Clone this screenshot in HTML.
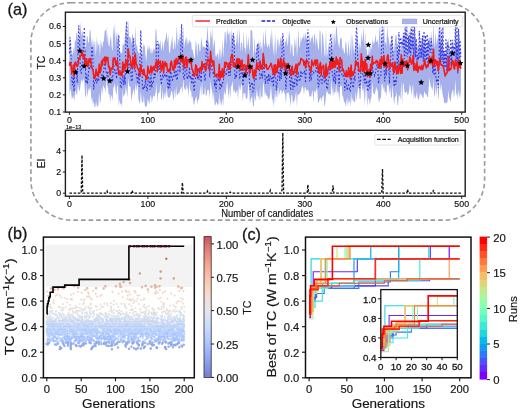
<!DOCTYPE html>
<html><head><meta charset="utf-8"><title>Figure</title>
<style>html,body{margin:0;padding:0;background:#fff;overflow:hidden;} svg{display:block;}</style>
</head><body>
<svg width="520" height="411" viewBox="0 0 520 411" font-family="'Liberation Sans', Arial, Helvetica, sans-serif" fill="#161616">
<style>text{stroke:#161616;stroke-width:0.18px;}</style>
<rect width="520" height="411" fill="#fff"/>
<rect x="30.9" y="2.7" width="453.7" height="217.4" rx="40" ry="40" fill="none" stroke="#9a9a9a" stroke-width="1.6" stroke-dasharray="4.6 3"/>
<text x="7.60" y="15.20" font-size="16.2" style="stroke-width:0.3px">(a)</text>
<text x="7.60" y="239.30" font-size="16.2" style="stroke-width:0.3px">(b)</text>
<text x="242.10" y="239.50" font-size="16.2" style="stroke-width:0.3px">(c)</text>
<g>
<polygon points="69.4,32.6 70.2,41.1 71.0,47.7 71.8,55.7 72.5,54.4 73.3,46.9 74.1,54.8 74.9,40.1 75.7,41.2 76.5,32.4 77.2,32.7 78.0,43.1 78.8,35.6 79.6,38.4 80.4,21.4 81.2,37.1 82.0,30.1 82.7,32.8 83.5,40.1 84.3,36.9 85.1,48.9 85.9,48.4 86.7,36.6 87.4,35.7 88.2,43.1 89.0,42.1 89.8,29.2 90.6,31.5 91.4,44.9 92.2,38.3 92.9,50.9 93.7,41.2 94.5,41.8 95.3,57.7 96.1,35.7 96.9,52.5 97.6,40.1 98.4,45.3 99.2,44.2 100.0,56.2 100.8,39.6 101.6,44.3 102.4,47.9 103.1,41.4 103.9,41.2 104.7,31.1 105.5,30.7 106.3,27.8 107.1,43.9 107.8,32.6 108.6,45.7 109.4,46.7 110.2,39.9 111.0,35.2 111.8,48.1 112.6,51.3 113.3,25.3 114.1,37.6 114.9,22.8 115.7,48.2 116.5,30.7 117.3,41.5 118.0,30.8 118.8,45.1 119.6,49.7 120.4,52.9 121.2,52.8 122.0,53.7 122.8,42.7 123.5,45.0 124.3,44.7 125.1,34.7 125.9,23.9 126.7,40.1 127.5,34.7 128.2,19.7 129.0,37.1 129.8,36.5 130.6,38.1 131.4,44.8 132.2,33.8 133.0,36.0 133.7,42.2 134.5,50.8 135.3,25.0 136.1,47.3 136.9,43.4 137.7,50.7 138.4,52.3 139.2,53.9 140.0,57.4 140.8,37.0 141.6,54.9 142.4,52.9 143.2,42.7 143.9,47.2 144.7,44.8 145.5,55.5 146.3,61.7 147.1,50.7 147.9,44.8 148.6,50.7 149.4,45.6 150.2,54.1 151.0,47.2 151.8,54.3 152.6,51.9 153.4,47.5 154.1,51.1 154.9,49.1 155.7,28.1 156.5,31.8 157.3,52.8 158.1,39.6 158.8,44.5 159.6,44.4 160.4,39.4 161.2,51.1 162.0,47.5 162.8,40.2 163.6,51.6 164.3,42.2 165.1,40.2 165.9,37.5 166.7,30.9 167.5,42.7 168.3,34.6 169.0,51.3 169.8,54.1 170.6,46.5 171.4,42.0 172.2,35.4 173.0,48.8 173.8,49.1 174.5,39.0 175.3,50.2 176.1,37.9 176.9,25.1 177.7,46.5 178.5,38.9 179.2,39.5 180.0,31.7 180.8,44.1 181.6,27.9 182.4,44.2 183.2,24.8 184.0,48.8 184.7,43.0 185.5,39.6 186.3,35.9 187.1,46.0 187.9,38.4 188.7,45.0 189.4,38.6 190.2,42.9 191.0,41.0 191.8,50.1 192.6,49.6 193.4,53.4 194.2,58.4 194.9,56.9 195.7,40.0 196.5,44.2 197.3,56.9 198.1,43.5 198.9,44.7 199.6,51.2 200.4,51.1 201.2,36.4 202.0,43.2 202.8,47.9 203.6,46.0 204.4,47.2 205.1,47.1 205.9,47.8 206.7,40.4 207.5,24.7 208.3,40.4 209.1,43.5 209.8,49.3 210.6,29.7 211.4,39.6 212.2,27.4 213.0,49.5 213.8,43.2 214.6,38.6 215.3,54.4 216.1,57.6 216.9,54.7 217.7,52.9 218.5,60.3 219.3,46.3 220.0,61.3 220.8,48.6 221.6,59.1 222.4,38.5 223.2,58.2 224.0,45.1 224.8,32.1 225.5,32.1 226.3,44.9 227.1,29.0 227.9,33.3 228.7,34.9 229.5,31.0 230.2,48.2 231.0,28.1 231.8,36.6 232.6,38.5 233.4,35.0 234.2,35.2 235.0,44.4 235.7,45.8 236.5,41.1 237.3,28.5 238.1,46.5 238.9,39.3 239.7,28.1 240.4,52.8 241.2,43.1 242.0,42.0 242.8,52.4 243.6,30.6 244.4,47.7 245.2,47.9 245.9,53.7 246.7,32.5 247.5,49.2 248.3,35.9 249.1,46.2 249.9,52.5 250.6,30.5 251.4,30.3 252.2,30.4 253.0,47.7 253.8,59.7 254.6,36.1 255.4,53.0 256.1,52.6 256.9,44.7 257.7,48.3 258.5,40.7 259.3,46.9 260.1,38.2 260.8,50.0 261.6,45.0 262.4,52.2 263.2,31.1 264.0,42.6 264.8,47.4 265.5,28.1 266.3,41.8 267.1,47.0 267.9,47.2 268.7,42.9 269.5,50.2 270.3,32.4 271.0,46.5 271.8,27.9 272.6,42.4 273.4,55.9 274.2,39.7 275.0,58.2 275.7,32.4 276.5,55.7 277.3,40.6 278.1,38.2 278.9,48.5 279.7,43.6 280.5,36.3 281.2,43.1 282.0,34.5 282.8,42.9 283.6,39.1 284.4,48.8 285.2,40.8 285.9,42.5 286.7,36.4 287.5,46.9 288.3,41.3 289.1,30.2 289.9,36.8 290.7,55.6 291.4,44.8 292.2,43.8 293.0,56.1 293.8,56.3 294.6,38.3 295.4,48.5 296.1,35.3 296.9,56.7 297.7,46.1 298.5,28.0 299.3,48.5 300.1,44.7 300.9,36.6 301.6,42.0 302.4,37.2 303.2,38.3 304.0,33.0 304.8,40.9 305.6,31.2 306.3,39.2 307.1,37.2 307.9,42.8 308.7,48.3 309.5,32.8 310.3,43.6 311.1,38.5 311.8,37.8 312.6,35.2 313.4,44.7 314.2,34.9 315.0,33.8 315.8,47.1 316.5,37.4 317.3,41.4 318.1,48.3 318.9,50.4 319.7,30.3 320.5,31.5 321.3,58.1 322.0,36.5 322.8,31.5 323.6,43.5 324.4,54.5 325.2,56.9 326.0,28.5 326.7,57.5 327.5,54.0 328.3,43.2 329.1,51.2 329.9,43.5 330.7,48.6 331.5,36.9 332.2,51.1 333.0,29.0 333.8,49.8 334.6,32.2 335.4,45.1 336.2,20.2 336.9,29.6 337.7,40.9 338.5,44.5 339.3,48.4 340.1,38.9 340.9,38.1 341.7,38.6 342.4,51.1 343.2,46.8 344.0,53.4 344.8,53.1 345.6,41.4 346.4,43.3 347.1,56.8 347.9,50.4 348.7,40.0 349.5,56.6 350.3,49.2 351.1,32.0 351.9,59.6 352.6,33.8 353.4,46.2 354.2,54.1 355.0,47.3 355.8,41.2 356.6,38.0 357.3,34.6 358.1,42.2 358.9,54.7 359.7,41.1 360.5,50.4 361.3,31.3 362.1,42.6 362.8,38.1 363.6,26.5 364.4,48.7 365.2,32.2 366.0,51.1 366.8,47.6 367.5,58.9 368.3,54.5 369.1,44.8 369.9,55.7 370.7,45.0 371.5,49.9 372.3,38.0 373.0,45.6 373.8,41.2 374.6,43.3 375.4,34.0 376.2,41.3 377.0,42.3 377.7,38.7 378.5,48.8 379.3,32.6 380.1,23.3 380.9,50.8 381.7,33.7 382.5,41.3 383.2,37.0 384.0,19.7 384.8,44.7 385.6,41.3 386.4,46.2 387.2,25.7 387.9,34.9 388.7,39.3 389.5,46.3 390.3,41.6 391.1,44.2 391.9,37.6 392.7,42.8 393.4,51.3 394.2,50.2 395.0,39.9 395.8,35.1 396.6,35.6 397.4,50.9 398.1,52.0 398.9,48.4 399.7,42.6 400.5,55.2 401.3,35.5 402.1,51.4 402.9,30.7 403.6,35.3 404.4,36.0 405.2,29.9 406.0,45.9 406.8,33.0 407.6,51.9 408.3,30.0 409.1,42.5 409.9,36.2 410.7,23.6 411.5,42.0 412.3,44.0 413.1,34.2 413.8,49.8 414.6,44.3 415.4,32.6 416.2,48.1 417.0,42.0 417.8,49.8 418.5,43.7 419.3,48.8 420.1,46.1 420.9,51.1 421.7,45.1 422.5,37.0 423.3,50.0 424.0,42.6 424.8,38.6 425.6,48.2 426.4,50.0 427.2,43.3 428.0,44.1 428.7,38.6 429.5,36.8 430.3,44.9 431.1,30.8 431.9,40.2 432.7,46.5 433.5,20.1 434.2,48.6 435.0,40.7 435.8,32.5 436.6,45.6 437.4,40.2 438.2,34.7 438.9,27.0 439.7,36.7 440.5,43.2 441.3,42.9 442.1,34.1 442.9,44.2 443.7,50.2 444.4,52.1 445.2,53.1 446.0,53.6 446.8,44.6 447.6,41.5 448.4,38.0 449.1,48.9 449.9,52.5 450.7,51.7 451.5,48.7 452.3,42.4 453.1,38.2 453.9,51.4 454.6,50.7 455.4,26.1 456.2,44.3 457.0,40.9 457.8,46.9 458.6,41.7 459.3,32.6 460.1,47.5 460.9,52.1 460.9,98.8 460.1,90.3 459.3,98.8 458.6,88.4 457.8,100.2 457.0,91.7 456.2,96.3 455.4,78.7 454.6,94.1 453.9,97.6 453.1,88.9 452.3,91.4 451.5,94.1 450.7,102.1 449.9,99.6 449.1,97.1 448.4,90.0 447.6,101.4 446.8,102.9 446.0,103.5 445.2,102.0 444.4,104.3 443.7,99.1 442.9,96.1 442.1,91.2 441.3,83.4 440.5,91.3 439.7,77.8 438.9,94.4 438.2,100.2 437.4,79.0 436.6,96.9 435.8,85.1 435.0,94.0 434.2,97.6 433.5,77.8 432.7,91.7 431.9,85.9 431.1,89.0 430.3,83.6 429.5,77.8 428.7,87.8 428.0,97.3 427.2,96.7 426.4,94.1 425.6,94.6 424.8,91.2 424.0,92.9 423.3,98.7 422.5,97.2 421.7,95.1 420.9,94.6 420.1,92.9 419.3,97.5 418.5,100.0 417.8,99.0 417.0,91.3 416.2,95.9 415.4,99.0 414.6,94.3 413.8,100.0 413.1,83.7 412.3,89.3 411.5,95.7 410.7,87.6 409.9,83.8 409.1,90.8 408.3,94.6 407.6,95.2 406.8,90.7 406.0,93.0 405.2,92.8 404.4,91.5 403.6,82.5 402.9,84.6 402.1,104.9 401.3,81.0 400.5,100.0 399.7,96.1 398.9,95.0 398.1,104.5 397.4,105.3 396.6,91.5 395.8,96.7 395.0,96.6 394.2,105.5 393.4,97.0 392.7,84.2 391.9,97.1 391.1,98.3 390.3,87.2 389.5,93.9 388.7,85.8 387.9,85.4 387.2,83.7 386.4,96.6 385.6,91.7 384.8,92.4 384.0,86.0 383.2,90.3 382.5,83.5 381.7,84.6 380.9,99.3 380.1,97.1 379.3,102.1 378.5,100.7 377.7,90.2 377.0,89.9 376.2,86.7 375.4,91.4 374.6,94.2 373.8,94.0 373.0,91.6 372.3,81.2 371.5,96.7 370.7,99.2 369.9,105.4 369.1,99.1 368.3,97.9 367.5,106.9 366.8,81.3 366.0,102.1 365.2,85.1 364.4,106.0 363.6,87.3 362.8,91.6 362.1,88.4 361.3,80.4 360.5,98.7 359.7,99.1 358.9,87.7 358.1,87.6 357.3,94.0 356.6,101.5 355.8,90.8 355.0,102.5 354.2,101.8 353.4,100.7 352.6,97.4 351.9,103.1 351.1,92.2 350.3,106.9 349.5,100.2 348.7,103.9 347.9,96.8 347.1,106.9 346.4,98.2 345.6,106.9 344.8,101.7 344.0,102.3 343.2,96.7 342.4,95.9 341.7,86.4 340.9,84.9 340.1,86.7 339.3,102.3 338.5,93.1 337.7,90.2 336.9,94.7 336.2,82.9 335.4,93.6 334.6,91.3 333.8,97.1 333.0,85.8 332.2,95.2 331.5,77.8 330.7,96.3 329.9,93.4 329.1,94.4 328.3,93.8 327.5,91.9 326.7,90.8 326.0,95.1 325.2,103.8 324.4,106.9 323.6,94.6 322.8,96.8 322.0,97.0 321.3,101.7 320.5,97.2 319.7,98.9 318.9,101.9 318.1,103.3 317.3,90.1 316.5,88.1 315.8,93.7 315.0,90.3 314.2,91.8 313.4,102.7 312.6,89.9 311.8,93.0 311.1,97.2 310.3,95.7 309.5,97.0 308.7,91.3 307.9,90.0 307.1,89.5 306.3,90.9 305.6,87.5 304.8,87.3 304.0,94.8 303.2,87.8 302.4,85.8 301.6,88.5 300.9,91.6 300.1,92.9 299.3,93.8 298.5,95.2 297.7,93.7 296.9,106.9 296.1,90.9 295.4,95.9 294.6,100.6 293.8,101.1 293.0,104.4 292.2,95.6 291.4,94.8 290.7,106.9 289.9,99.5 289.1,94.5 288.3,92.3 287.5,93.3 286.7,92.3 285.9,104.1 285.2,94.7 284.4,92.9 283.6,89.9 282.8,91.4 282.0,94.5 281.2,90.1 280.5,89.9 279.7,92.0 278.9,96.3 278.1,84.9 277.3,97.1 276.5,97.1 275.7,90.3 275.0,104.4 274.2,93.4 273.4,106.9 272.6,100.1 271.8,97.2 271.0,85.1 270.3,92.4 269.5,98.2 268.7,99.4 267.9,97.5 267.1,95.2 266.3,96.0 265.5,91.8 264.8,96.0 264.0,86.0 263.2,81.1 262.4,97.2 261.6,95.7 260.8,99.6 260.1,86.5 259.3,100.7 258.5,96.6 257.7,96.1 256.9,88.8 256.1,96.5 255.4,101.5 254.6,95.1 253.8,105.8 253.0,106.7 252.2,96.3 251.4,97.5 250.6,99.6 249.9,104.6 249.1,86.5 248.3,82.5 247.5,97.3 246.7,98.8 245.9,99.1 245.2,93.0 244.4,93.5 243.6,93.1 242.8,101.7 242.0,86.1 241.2,83.5 240.4,90.1 239.7,89.3 238.9,83.7 238.1,100.6 237.3,89.7 236.5,91.0 235.7,93.8 235.0,92.6 234.2,89.2 233.4,92.7 232.6,80.8 231.8,84.9 231.0,86.7 230.2,99.5 229.5,86.3 228.7,98.7 227.9,90.6 227.1,81.2 226.3,88.2 225.5,95.5 224.8,93.7 224.0,90.3 223.2,106.8 222.4,97.6 221.6,106.9 220.8,98.9 220.0,105.7 219.3,92.6 218.5,103.8 217.7,105.6 216.9,103.1 216.1,101.7 215.3,105.9 214.6,104.2 213.8,91.9 213.0,100.0 212.2,91.6 211.4,88.4 210.6,79.5 209.8,98.9 209.1,91.5 208.3,89.2 207.5,89.8 206.7,94.8 205.9,96.4 205.1,86.1 204.4,94.0 203.6,94.8 202.8,93.7 202.0,81.0 201.2,96.5 200.4,85.1 199.6,94.4 198.9,100.0 198.1,98.7 197.3,104.9 196.5,95.8 195.7,98.2 194.9,100.4 194.2,105.5 193.4,102.5 192.6,95.9 191.8,98.3 191.0,89.4 190.2,92.1 189.4,80.5 188.7,98.1 187.9,86.6 187.1,90.7 186.3,84.4 185.5,89.9 184.7,89.5 184.0,87.6 183.2,77.8 182.4,93.8 181.6,86.3 180.8,88.8 180.0,89.9 179.2,94.2 178.5,92.2 177.7,94.4 176.9,95.5 176.1,86.1 175.3,98.9 174.5,88.3 173.8,100.9 173.0,97.7 172.2,91.6 171.4,91.1 170.6,94.9 169.8,97.5 169.0,97.4 168.3,97.6 167.5,95.7 166.7,86.2 165.9,98.1 165.1,91.2 164.3,95.5 163.6,100.9 162.8,88.7 162.0,97.9 161.2,100.0 160.4,80.5 159.6,91.8 158.8,93.9 158.1,92.0 157.3,103.2 156.5,82.6 155.7,91.4 154.9,95.8 154.1,97.1 153.4,95.1 152.6,98.4 151.8,102.7 151.0,95.0 150.2,97.3 149.4,104.5 148.6,101.7 147.9,97.9 147.1,103.9 146.3,106.9 145.5,106.9 144.7,104.8 143.9,94.7 143.2,102.0 142.4,103.1 141.6,99.5 140.8,90.6 140.0,104.4 139.2,101.8 138.4,99.1 137.7,84.1 136.9,86.2 136.1,91.8 135.3,82.6 134.5,96.7 133.7,88.6 133.0,91.2 132.2,95.6 131.4,102.0 130.6,86.8 129.8,86.8 129.0,85.5 128.2,77.8 127.5,97.4 126.7,92.0 125.9,85.9 125.1,94.0 124.3,95.0 123.5,96.9 122.8,89.1 122.0,106.9 121.2,103.3 120.4,104.4 119.6,99.3 118.8,106.9 118.0,87.3 117.3,84.6 116.5,95.3 115.7,92.1 114.9,83.0 114.1,87.1 113.3,87.8 112.6,100.6 111.8,96.7 111.0,94.5 110.2,102.7 109.4,93.6 108.6,95.1 107.8,84.6 107.1,88.3 106.3,77.8 105.5,93.5 104.7,88.3 103.9,87.0 103.1,85.0 102.4,94.8 101.6,87.3 100.8,99.5 100.0,103.9 99.2,92.3 98.4,105.0 97.6,106.5 96.9,106.4 96.1,101.1 95.3,106.9 94.5,106.9 93.7,101.3 92.9,104.8 92.2,97.1 91.4,101.0 90.6,86.7 89.8,91.1 89.0,87.5 88.2,91.2 87.4,97.2 86.7,84.3 85.9,98.0 85.1,95.6 84.3,81.2 83.5,78.1 82.7,82.8 82.0,79.8 81.2,80.6 80.4,86.0 79.6,91.8 78.8,89.3 78.0,83.5 77.2,93.9 76.5,94.8 75.7,89.1 74.9,95.4 74.1,101.5 73.3,95.1 72.5,98.0 71.8,98.7 71.0,91.4 70.2,88.4 69.4,96.0" fill="#a6b0eb" stroke="none"/>
<polyline points="69.4,53.2 70.2,37.2 71.0,52.1 71.8,79.7 72.5,85.3 73.3,75.1 74.1,91.5 74.9,69.3 75.7,69.6 76.5,70.2 77.2,82.9 78.0,48.5 78.8,25.4 79.6,42.4 80.4,72.8 81.2,73.2 82.0,63.4 82.7,67.4 83.5,45.1 84.3,27.3 85.1,51.6 85.9,83.3 86.7,74.2 87.4,83.9 88.2,78.1 89.0,64.6 89.8,69.3 90.6,66.7 91.4,54.5 92.2,46.2 92.9,58.6 93.7,89.4 94.5,81.4 95.3,81.7 96.1,77.8 96.9,83.4 97.6,78.1 98.4,81.3 99.2,78.1 100.0,77.9 100.8,78.0 101.6,74.4 102.4,78.8 103.1,74.2 103.9,69.3 104.7,59.2 105.5,69.7 106.3,72.5 107.1,76.3 107.8,71.0 108.6,82.7 109.4,82.2 110.2,80.9 111.0,81.5 111.8,76.8 112.6,81.9 113.3,59.9 114.1,67.9 114.9,73.5 115.7,69.9 116.5,78.8 117.3,70.3 118.0,46.6 118.8,35.0 119.6,51.5 120.4,87.8 121.2,87.8 122.0,78.1 122.8,76.7 123.5,85.3 124.3,75.6 125.1,84.6 125.9,39.3 126.7,21.4 127.5,48.6 128.2,58.0 129.0,68.0 129.8,62.9 130.6,66.8 131.4,81.1 132.2,81.4 133.0,44.8 133.7,38.3 134.5,56.5 135.3,71.7 136.1,72.8 136.9,77.7 137.7,83.4 138.4,72.9 139.2,86.7 140.0,58.8 140.8,30.3 141.6,54.1 142.4,86.8 143.2,90.1 143.9,85.9 144.7,88.0 145.5,78.8 146.3,87.0 147.1,91.5 147.9,82.5 148.6,76.3 149.4,81.4 150.2,89.7 151.0,74.4 151.8,87.7 152.6,81.8 153.4,82.8 154.1,72.3 154.9,77.9 155.7,71.4 156.5,45.9 157.3,41.2 158.1,44.9 158.8,69.9 159.6,65.2 160.4,75.0 161.2,84.9 162.0,78.3 162.8,74.3 163.6,77.6 164.3,76.2 165.1,73.9 165.9,76.0 166.7,72.2 167.5,83.0 168.3,89.2 169.0,75.3 169.8,88.2 170.6,67.6 171.4,74.9 172.2,80.1 173.0,78.8 173.8,73.7 174.5,72.4 175.3,77.5 176.1,69.8 176.9,80.3 177.7,76.2 178.5,59.5 179.2,60.3 180.0,72.7 180.8,45.9 181.6,24.3 182.4,47.1 183.2,73.4 184.0,79.7 184.7,75.2 185.5,68.5 186.3,59.7 187.1,79.5 187.9,77.2 188.7,77.8 189.4,67.1 190.2,78.9 191.0,76.1 191.8,84.1 192.6,71.4 193.4,83.9 194.2,91.5 194.9,82.3 195.7,76.7 196.5,74.8 197.3,77.9 198.1,75.5 198.9,79.9 199.6,70.5 200.4,77.1 201.2,82.3 202.0,65.6 202.8,70.2 203.6,71.0 204.4,75.8 205.1,80.9 205.9,58.2 206.7,40.1 207.5,47.3 208.3,69.2 209.1,64.9 209.8,77.2 210.6,60.1 211.4,65.9 212.2,70.2 213.0,72.9 213.8,71.0 214.6,86.6 215.3,81.0 216.1,91.5 216.9,76.1 217.7,77.3 218.5,81.1 219.3,74.7 220.0,90.2 220.8,83.1 221.6,87.4 222.4,83.0 223.2,82.2 224.0,75.9 224.8,72.2 225.5,71.3 226.3,75.7 227.1,67.8 227.9,65.8 228.7,76.0 229.5,64.9 230.2,75.6 231.0,64.4 231.8,64.9 232.6,38.5 233.4,33.0 234.2,46.3 235.0,78.9 235.7,74.2 236.5,75.9 237.3,64.3 238.1,68.5 238.9,66.6 239.7,77.5 240.4,76.2 241.2,71.6 242.0,64.0 242.8,85.9 243.6,78.7 244.4,67.8 245.2,69.9 245.9,76.7 246.7,75.6 247.5,74.1 248.3,57.5 249.1,73.1 249.9,89.9 250.6,83.4 251.4,84.0 252.2,82.1 253.0,91.5 253.8,90.5 254.6,78.0 255.4,79.7 256.1,80.6 256.9,49.5 257.7,43.4 258.5,56.6 259.3,67.1 260.1,78.4 260.8,77.4 261.6,73.0 262.4,78.4 263.2,68.4 264.0,62.6 264.8,75.6 265.5,84.0 266.3,76.8 267.1,75.5 267.9,83.8 268.7,73.6 269.5,81.2 270.3,76.0 271.0,76.4 271.8,82.0 272.6,74.3 273.4,86.8 274.2,70.7 275.0,78.0 275.7,78.1 276.5,90.3 277.3,81.5 278.1,73.3 278.9,71.0 279.7,80.9 280.5,64.2 281.2,79.2 282.0,52.3 282.8,33.2 283.6,43.5 284.4,75.7 285.2,70.5 285.9,89.2 286.7,76.9 287.5,67.2 288.3,71.5 289.1,71.8 289.9,80.8 290.7,90.4 291.4,72.6 292.2,80.0 293.0,89.9 293.8,81.3 294.6,86.9 295.4,72.6 296.1,70.6 296.9,86.2 297.7,75.1 298.5,73.3 299.3,81.5 300.1,79.6 300.9,70.7 301.6,76.7 302.4,74.7 303.2,72.2 304.0,73.0 304.8,70.8 305.6,83.1 306.3,65.8 307.1,44.6 307.9,29.5 308.7,50.0 309.5,81.4 310.3,71.5 311.1,80.7 311.8,75.2 312.6,70.8 313.4,73.5 314.2,71.6 315.0,70.2 315.8,71.2 316.5,66.3 317.3,68.3 318.1,85.4 318.9,87.3 319.7,67.2 320.5,73.9 321.3,82.8 322.0,83.3 322.8,75.0 323.6,73.5 324.4,82.9 325.2,80.2 326.0,74.7 326.7,88.6 327.5,89.2 328.3,79.7 329.1,78.8 329.9,44.8 330.7,33.9 331.5,40.5 332.2,73.5 333.0,76.3 333.8,81.9 334.6,70.1 335.4,84.1 336.2,72.4 336.9,70.2 337.7,66.4 338.5,79.6 339.3,86.4 340.1,61.9 340.9,70.1 341.7,73.0 342.4,76.8 343.2,76.2 344.0,74.1 344.8,90.7 345.6,82.0 346.4,80.9 347.1,90.6 347.9,86.5 348.7,85.1 349.5,89.6 350.3,91.5 351.1,71.8 351.9,82.6 352.6,85.9 353.4,88.0 354.2,76.6 355.0,80.8 355.8,40.5 356.6,25.2 357.3,44.4 358.1,71.4 358.9,79.3 359.7,88.3 360.5,82.9 361.3,58.9 362.1,68.1 362.8,75.0 363.6,74.4 364.4,83.2 365.2,73.8 366.0,84.6 366.8,80.4 367.5,91.4 368.3,88.3 369.1,80.0 369.9,88.4 370.7,69.7 371.5,75.4 372.3,65.3 373.0,71.6 373.8,72.9 374.6,75.7 375.4,72.7 376.2,68.1 377.0,64.8 377.7,65.8 378.5,83.7 379.3,75.8 380.1,75.9 380.9,75.5 381.7,36.8 382.5,21.4 383.2,44.8 384.0,66.7 384.8,81.4 385.6,69.1 386.4,75.1 387.2,62.9 387.9,66.9 388.7,68.9 389.5,83.4 390.3,65.1 391.1,49.2 391.9,35.6 392.7,47.6 393.4,77.7 394.2,86.8 395.0,79.2 395.8,84.7 396.6,79.7 397.4,44.2 398.1,72.8 398.9,31.9 399.7,54.4 400.5,37.4 401.3,44.1 402.1,42.7 402.9,47.4 403.6,33.0 404.4,58.9 405.2,24.3 406.0,56.3 406.8,25.3 407.6,57.3 408.3,36.1 409.1,53.1 409.9,32.7 410.7,55.8 411.5,26.2 412.3,48.7 413.1,21.4 413.8,60.9 414.6,25.8 415.4,57.4 416.2,38.7 417.0,60.8 417.8,54.8 418.5,59.9 419.3,30.9 420.1,58.5 420.9,38.4 421.7,57.5 422.5,35.5 423.3,61.5 424.0,31.1 424.8,59.5 425.6,35.5 426.4,60.7 427.2,34.3 428.0,65.6 428.7,40.7 429.5,48.7 430.3,53.0 431.1,38.3 431.9,46.9 432.7,73.5 433.5,65.6 434.2,75.7 435.0,62.5 435.8,76.2 436.6,82.2 437.4,78.4 438.2,87.8 438.9,67.3 439.7,22.8 440.5,64.1 441.3,29.7 442.1,62.2 442.9,27.2 443.7,68.0 444.4,51.1 445.2,67.9 446.0,38.3 446.8,70.8 447.6,42.4 448.4,48.5 449.1,46.6 449.9,65.6 450.7,38.9 451.5,64.4 452.3,39.9 453.1,48.8 453.9,47.8 454.6,55.6 455.4,22.6 456.2,61.1 457.0,24.7 457.8,73.4 458.6,28.9 459.3,64.7 460.1,40.2 460.9,56.9" fill="none" stroke="#2424e4" stroke-width="1.1" stroke-dasharray="1.7 2" stroke-opacity="0.9"/>
<polyline points="69.4,65.7 70.2,62.3 71.0,64.7 71.8,73.2 72.5,72.7 73.3,65.0 74.1,76.2 74.9,63.1 75.7,62.1 76.5,65.5 77.2,66.4 78.0,64.9 78.8,58.1 79.6,58.7 80.4,56.0 81.2,55.7 82.0,50.7 82.7,54.9 83.5,58.7 84.3,54.5 85.1,65.2 85.9,65.6 86.7,58.7 87.4,66.4 88.2,66.1 89.0,58.8 89.8,62.1 90.6,58.6 91.4,65.7 92.2,68.7 92.9,69.9 93.7,74.5 94.5,78.8 95.3,77.0 96.1,69.1 96.9,75.4 97.6,72.2 98.4,76.7 99.2,64.1 100.0,73.0 100.8,70.6 101.6,61.0 102.4,65.5 103.1,59.0 103.9,60.2 104.7,57.0 105.5,64.5 106.3,57.3 107.1,60.3 107.8,57.6 108.6,67.5 109.4,66.6 110.2,74.8 111.0,68.6 111.8,68.1 112.6,69.0 113.3,58.0 114.1,59.5 114.9,57.8 115.7,64.6 116.5,65.6 117.3,59.8 118.0,66.5 118.8,74.8 119.6,71.4 120.4,75.1 121.2,72.4 122.0,75.7 122.8,62.1 123.5,71.9 124.3,64.3 125.1,68.6 125.9,59.7 126.7,62.1 127.5,69.0 128.2,48.7 129.0,56.0 129.8,55.9 130.6,60.9 131.4,67.5 132.2,67.3 133.0,57.2 133.7,63.1 134.5,68.9 135.3,53.9 136.1,63.6 136.9,65.4 137.7,68.9 138.4,69.1 139.2,72.3 140.0,75.9 140.8,64.6 141.6,71.2 142.4,70.8 143.2,74.7 143.9,69.3 144.7,75.3 145.5,75.5 146.3,79.5 147.1,78.6 147.9,66.3 148.6,70.5 149.4,73.5 150.2,71.8 151.0,66.0 151.8,72.9 152.6,68.6 153.4,66.5 154.1,70.4 154.9,67.3 155.7,63.4 156.5,61.1 157.3,71.6 158.1,60.1 158.8,64.1 159.6,62.0 160.4,61.1 161.2,70.9 162.0,66.9 162.8,61.3 163.6,73.0 164.3,64.2 165.1,62.0 165.9,66.2 166.7,63.4 167.5,70.8 168.3,71.4 169.0,69.2 169.8,72.1 170.6,63.5 171.4,61.0 172.2,66.3 173.0,69.5 173.8,70.4 174.5,60.6 175.3,67.4 176.1,58.6 176.9,64.2 177.7,63.0 178.5,56.5 179.2,57.6 180.0,58.9 180.8,61.6 181.6,55.6 182.4,62.8 183.2,55.9 184.0,68.6 184.7,63.9 185.5,57.6 186.3,57.0 187.1,67.3 187.9,59.6 188.7,61.7 189.4,61.3 190.2,63.1 191.0,59.1 191.8,69.3 192.6,69.4 193.4,73.2 194.2,76.3 194.9,75.0 195.7,64.9 196.5,65.8 197.3,76.1 198.1,68.9 198.9,70.6 199.6,68.8 200.4,67.4 201.2,71.7 202.0,61.5 202.8,67.8 203.6,64.7 204.4,63.8 205.1,69.5 205.9,70.5 206.7,64.7 207.5,59.6 208.3,59.2 209.1,60.8 209.8,70.1 210.6,51.3 211.4,61.0 212.2,60.3 213.0,65.8 213.8,61.0 214.6,74.4 215.3,75.5 216.1,76.5 216.9,74.0 217.7,74.9 218.5,76.7 219.3,64.3 220.0,79.5 220.8,71.7 221.6,76.9 222.4,68.7 223.2,77.2 224.0,72.2 224.8,62.3 225.5,67.2 226.3,62.4 227.1,63.8 227.9,63.7 228.7,68.9 229.5,62.6 230.2,69.5 231.0,57.7 231.8,54.6 232.6,55.3 233.4,66.7 234.2,63.1 235.0,63.9 235.7,67.4 236.5,60.5 237.3,58.6 238.1,66.0 238.9,58.7 239.7,60.1 240.4,70.2 241.2,61.4 242.0,60.1 242.8,70.3 243.6,65.3 244.4,64.7 245.2,65.6 245.9,73.6 246.7,66.1 247.5,67.1 248.3,54.7 249.1,65.9 249.9,73.3 250.6,67.9 251.4,66.1 252.2,65.9 253.0,76.6 253.8,78.8 254.6,70.0 255.4,75.8 256.1,69.3 256.9,62.4 257.7,69.1 258.5,69.4 259.3,65.1 260.1,60.9 260.8,69.1 261.6,65.3 262.4,69.1 263.2,53.5 264.0,59.6 264.8,66.3 265.5,66.6 266.3,64.5 267.1,69.4 267.9,69.2 268.7,68.2 269.5,66.6 270.3,65.1 271.0,63.2 271.8,66.2 272.6,70.7 273.4,74.3 274.2,65.0 275.0,74.5 275.7,64.7 276.5,72.5 277.3,72.1 278.1,59.2 278.9,67.2 279.7,65.6 280.5,58.0 281.2,61.6 282.0,68.4 282.8,65.5 283.6,59.6 284.4,67.5 285.2,63.2 285.9,72.5 286.7,64.0 287.5,63.8 288.3,63.5 289.1,66.2 289.9,71.0 290.7,75.7 291.4,69.5 292.2,66.3 293.0,74.7 293.8,73.9 294.6,70.3 295.4,67.0 296.1,64.2 296.9,74.5 297.7,65.5 298.5,63.3 299.3,64.8 300.1,63.0 300.9,58.5 301.6,58.9 302.4,59.8 303.2,60.2 304.0,65.2 304.8,61.2 305.6,68.0 306.3,60.2 307.1,60.7 307.9,61.7 308.7,66.2 309.5,67.6 310.3,67.2 311.1,72.2 311.8,60.1 312.6,63.9 313.4,65.7 314.2,62.9 315.0,59.9 315.8,65.7 316.5,60.3 317.3,59.9 318.1,68.6 318.9,73.1 319.7,65.1 320.5,62.5 321.3,75.1 322.0,67.5 322.8,66.3 323.6,65.4 324.4,77.4 325.2,78.0 326.0,64.1 326.7,75.7 327.5,73.9 328.3,67.2 329.1,68.0 329.9,62.7 330.7,69.8 331.5,58.4 332.2,67.5 333.0,58.6 333.8,67.7 334.6,60.9 335.4,67.1 336.2,56.9 336.9,64.5 337.7,59.4 338.5,63.9 339.3,70.4 340.1,57.6 340.9,59.9 341.7,60.2 342.4,70.5 343.2,69.1 344.0,72.3 344.8,74.4 345.6,76.5 346.4,70.5 347.1,76.6 347.9,76.6 348.7,67.5 349.5,73.6 350.3,78.2 351.1,65.1 351.9,76.2 352.6,71.9 353.4,75.0 354.2,71.2 355.0,69.1 355.8,60.4 356.6,64.9 357.3,64.2 358.1,62.2 358.9,71.3 359.7,71.0 360.5,71.4 361.3,53.7 362.1,60.7 362.8,71.5 363.6,61.5 364.4,73.0 365.2,59.6 366.0,69.6 366.8,63.9 367.5,76.7 368.3,73.0 369.1,69.2 369.9,77.2 370.7,64.2 371.5,70.1 372.3,56.2 373.0,64.3 373.8,62.6 374.6,62.8 375.4,62.9 376.2,60.4 377.0,62.4 377.7,61.1 378.5,66.8 379.3,68.3 380.1,59.4 380.9,67.6 381.7,56.6 382.5,61.0 383.2,64.5 384.0,55.6 384.8,66.6 385.6,61.9 386.4,68.7 387.2,56.9 387.9,54.7 388.7,60.6 389.5,68.9 390.3,62.2 391.1,64.6 391.9,66.4 392.7,63.0 393.4,71.4 394.2,72.6 395.0,61.8 395.8,66.8 396.6,73.2 397.4,67.6 398.1,73.5 398.9,67.8 399.7,63.9 400.5,73.5 401.3,54.9 402.1,73.3 402.9,59.3 403.6,65.9 404.4,66.3 405.2,61.4 406.0,64.0 406.8,60.8 407.6,69.8 408.3,62.7 409.1,62.5 409.9,56.9 410.7,60.7 411.5,64.2 412.3,61.9 413.1,55.6 413.8,70.4 414.6,63.2 415.4,69.1 416.2,70.4 417.0,61.6 417.8,72.3 418.5,69.5 419.3,66.2 420.1,67.6 420.9,69.4 421.7,65.3 422.5,69.8 423.3,67.2 424.0,64.0 424.8,59.9 425.6,65.4 426.4,68.0 427.2,65.1 428.0,66.6 428.7,60.8 429.5,56.4 430.3,63.7 431.1,59.7 431.9,57.6 432.7,66.2 433.5,49.4 434.2,66.0 435.0,59.5 435.8,60.3 436.6,65.1 437.4,61.2 438.2,70.9 438.9,65.8 439.7,59.0 440.5,63.8 441.3,65.2 442.1,64.9 442.9,65.9 443.7,68.4 444.4,71.9 445.2,76.0 446.0,73.9 446.8,73.3 447.6,70.8 448.4,56.4 449.1,70.8 449.9,68.9 450.7,69.5 451.5,66.1 452.3,60.4 453.1,60.9 453.9,67.8 454.6,69.0 455.4,59.9 456.2,65.3 457.0,62.4 457.8,71.0 458.6,59.5 459.3,67.3 460.1,64.5 460.9,68.8" fill="none" stroke="#f01c1c" stroke-width="1.55" stroke-linejoin="round"/>
</g>
<polygon points="75.50,69.10 76.35,71.14 78.54,71.31 76.87,72.74 77.38,74.89 75.50,73.74 73.62,74.89 74.13,72.74 72.46,71.31 74.65,71.14" fill="#000"/>
<polygon points="79.80,47.60 80.65,49.64 82.84,49.81 81.17,51.24 81.68,53.39 79.80,52.24 77.92,53.39 78.43,51.24 76.76,49.81 78.95,49.64" fill="#000"/>
<polygon points="84.20,63.00 85.05,65.04 87.24,65.21 85.57,66.64 86.08,68.79 84.20,67.64 82.32,68.79 82.83,66.64 81.16,65.21 83.35,65.04" fill="#000"/>
<polygon points="103.70,75.30 104.55,77.34 106.74,77.51 105.07,78.94 105.58,81.09 103.70,79.94 101.82,81.09 102.33,78.94 100.66,77.51 102.85,77.34" fill="#000"/>
<polygon points="109.80,77.60 110.65,79.64 112.84,79.81 111.17,81.24 111.68,83.39 109.80,82.24 107.92,83.39 108.43,81.24 106.76,79.81 108.95,79.64" fill="#000"/>
<polygon points="127.50,68.30 128.35,70.34 130.54,70.51 128.87,71.94 129.38,74.09 127.50,72.94 125.62,74.09 126.13,71.94 124.46,70.51 126.65,70.34" fill="#000"/>
<polygon points="180.90,53.80 181.75,55.84 183.94,56.01 182.27,57.44 182.78,59.59 180.90,58.44 179.02,59.59 179.53,57.44 177.86,56.01 180.05,55.84" fill="#000"/>
<polygon points="191.00,56.70 191.85,58.74 194.04,58.91 192.37,60.34 192.88,62.49 191.00,61.34 189.12,62.49 189.63,60.34 187.96,58.91 190.15,58.74" fill="#000"/>
<polygon points="238.00,63.50 238.85,65.54 241.04,65.71 239.37,67.14 239.88,69.29 238.00,68.14 236.12,69.29 236.63,67.14 234.96,65.71 237.15,65.54" fill="#000"/>
<polygon points="244.80,72.20 245.65,74.24 247.84,74.41 246.17,75.84 246.68,77.99 244.80,76.84 242.92,77.99 243.43,75.84 241.76,74.41 243.95,74.24" fill="#000"/>
<polygon points="252.50,56.70 253.35,58.74 255.54,58.91 253.87,60.34 254.38,62.49 252.50,61.34 250.62,62.49 251.13,60.34 249.46,58.91 251.65,58.74" fill="#000"/>
<polygon points="250.00,63.50 250.85,65.54 253.04,65.71 251.37,67.14 251.88,69.29 250.00,68.14 248.12,69.29 248.63,67.14 246.96,65.71 249.15,65.54" fill="#000"/>
<polygon points="285.60,70.30 286.45,72.34 288.64,72.51 286.97,73.94 287.48,76.09 285.60,74.94 283.72,76.09 284.23,73.94 282.56,72.51 284.75,72.34" fill="#000"/>
<polygon points="288.10,63.50 288.95,65.54 291.14,65.71 289.47,67.14 289.98,69.29 288.10,68.14 286.22,69.29 286.73,67.14 285.06,65.71 287.25,65.54" fill="#000"/>
<polygon points="331.60,56.20 332.45,58.24 334.64,58.41 332.97,59.84 333.48,61.99 331.60,60.84 329.72,61.99 330.23,59.84 328.56,58.41 330.75,58.24" fill="#000"/>
<polygon points="368.30,41.70 369.15,43.74 371.34,43.91 369.67,45.34 370.18,47.49 368.30,46.34 366.42,47.49 366.93,45.34 365.26,43.91 367.45,43.74" fill="#000"/>
<polygon points="368.00,54.80 368.85,56.84 371.04,57.01 369.37,58.44 369.88,60.59 368.00,59.44 366.12,60.59 366.63,58.44 364.96,57.01 367.15,56.84" fill="#000"/>
<polygon points="367.00,70.30 367.85,72.34 370.04,72.51 368.37,73.94 368.88,76.09 367.00,74.94 365.12,76.09 365.63,73.94 363.96,72.51 366.15,72.34" fill="#000"/>
<polygon points="370.30,70.30 371.15,72.34 373.34,72.51 371.67,73.94 372.18,76.09 370.30,74.94 368.42,76.09 368.93,73.94 367.26,72.51 369.45,72.34" fill="#000"/>
<polygon points="385.00,60.60 385.85,62.64 388.04,62.81 386.37,64.24 386.88,66.39 385.00,65.24 383.12,66.39 383.63,64.24 381.96,62.81 384.15,62.64" fill="#000"/>
<polygon points="402.00,59.60 402.85,61.64 405.04,61.81 403.37,63.24 403.88,65.39 402.00,64.24 400.12,65.39 400.63,63.24 398.96,61.81 401.15,61.64" fill="#000"/>
<polygon points="407.40,62.50 408.25,64.54 410.44,64.71 408.77,66.14 409.28,68.29 407.40,67.14 405.52,68.29 406.03,66.14 404.36,64.71 406.55,64.54" fill="#000"/>
<polygon points="421.20,79.30 422.05,81.34 424.24,81.51 422.57,82.94 423.08,85.09 421.20,83.94 419.32,85.09 419.83,82.94 418.16,81.51 420.35,81.34" fill="#000"/>
<polygon points="430.90,57.70 431.75,59.74 433.94,59.91 432.27,61.34 432.78,63.49 430.90,62.34 429.02,63.49 429.53,61.34 427.86,59.91 430.05,59.74" fill="#000"/>
<polygon points="452.60,50.30 453.45,52.34 455.64,52.51 453.97,53.94 454.48,56.09 452.60,54.94 450.72,56.09 451.23,53.94 449.56,52.51 451.75,52.34" fill="#000"/>
<polygon points="460.40,60.00 461.25,62.04 463.44,62.21 461.77,63.64 462.28,65.79 460.40,64.64 458.52,65.79 459.03,63.64 457.36,62.21 459.55,62.04" fill="#000"/>
<rect x="192.3" y="15.3" width="270" height="11.5" rx="1.5" fill="#fff" fill-opacity="0.85" stroke="#dadada" stroke-width="0.8"/>
<line x1="195.4" y1="21" x2="210" y2="21" stroke="#f01c1c" stroke-width="1.4"/>
<text x="216.00" y="23.60" font-size="7.1" textLength="31" lengthAdjust="spacingAndGlyphs" style="stroke-width:0.22px">Prediction</text>
<line x1="261.5" y1="21" x2="275" y2="21" stroke="#1c1ce0" stroke-width="1.4" stroke-dasharray="3.7 1.6"/>
<text x="282.30" y="23.60" font-size="7.1" textLength="28.5" lengthAdjust="spacingAndGlyphs" style="stroke-width:0.22px">Objective</text>
<polygon points="333.30,19.40 334.01,21.12 335.87,21.27 334.46,22.48 334.89,24.28 333.30,23.32 331.71,24.28 332.14,22.48 330.73,21.27 332.59,21.12" fill="#000"/>
<text x="346.00" y="23.60" font-size="7.1" textLength="42" lengthAdjust="spacingAndGlyphs" style="stroke-width:0.22px">Observations</text>
<rect x="402.3" y="19" width="14.6" height="4.8" fill="#aab4ec" stroke="#8f9ade" stroke-width="0.5"/>
<text x="422.70" y="23.60" font-size="7.1" textLength="36" lengthAdjust="spacingAndGlyphs" style="stroke-width:0.22px">Uncertainty</text>
<rect x="65.4" y="12.2" width="399.8" height="99.9" fill="none" stroke="#1e1e1e" stroke-width="1.4"/>
<line x1="62.8" y1="112.0" x2="65.4" y2="112.0" stroke="#1e1e1e" stroke-width="1"/>
<text x="61.20" y="114.95" font-size="8.8" text-anchor="end">0.1</text>
<line x1="62.8" y1="94.9" x2="65.4" y2="94.9" stroke="#1e1e1e" stroke-width="1"/>
<text x="61.20" y="97.85" font-size="8.8" text-anchor="end">0.2</text>
<line x1="62.8" y1="77.8" x2="65.4" y2="77.8" stroke="#1e1e1e" stroke-width="1"/>
<text x="61.20" y="80.75" font-size="8.8" text-anchor="end">0.3</text>
<line x1="62.8" y1="60.7" x2="65.4" y2="60.7" stroke="#1e1e1e" stroke-width="1"/>
<text x="61.20" y="63.65" font-size="8.8" text-anchor="end">0.4</text>
<line x1="62.8" y1="43.6" x2="65.4" y2="43.6" stroke="#1e1e1e" stroke-width="1"/>
<text x="61.20" y="46.55" font-size="8.8" text-anchor="end">0.5</text>
<line x1="62.8" y1="26.5" x2="65.4" y2="26.5" stroke="#1e1e1e" stroke-width="1"/>
<text x="61.20" y="29.45" font-size="8.8" text-anchor="end">0.6</text>
<line x1="69.4" y1="112.1" x2="69.4" y2="114.8" stroke="#1e1e1e" stroke-width="1"/>
<text x="69.40" y="122.50" font-size="8.8" text-anchor="middle">0</text>
<line x1="147.9" y1="112.1" x2="147.9" y2="114.8" stroke="#1e1e1e" stroke-width="1"/>
<text x="147.86" y="122.50" font-size="8.8" text-anchor="middle">100</text>
<line x1="226.3" y1="112.1" x2="226.3" y2="114.8" stroke="#1e1e1e" stroke-width="1"/>
<text x="226.32" y="122.50" font-size="8.8" text-anchor="middle">200</text>
<line x1="304.8" y1="112.1" x2="304.8" y2="114.8" stroke="#1e1e1e" stroke-width="1"/>
<text x="304.78" y="122.50" font-size="8.8" text-anchor="middle">300</text>
<line x1="383.2" y1="112.1" x2="383.2" y2="114.8" stroke="#1e1e1e" stroke-width="1"/>
<text x="383.24" y="122.50" font-size="8.8" text-anchor="middle">400</text>
<line x1="461.7" y1="112.1" x2="461.7" y2="114.8" stroke="#1e1e1e" stroke-width="1"/>
<text x="461.70" y="122.50" font-size="8.8" text-anchor="middle">500</text>
<text transform="translate(45.10,62.60) rotate(-90)" font-size="10.3" text-anchor="middle">TC</text>
<text x="66.00" y="128.60" font-size="5.8" textLength="15.3" lengthAdjust="spacingAndGlyphs">1e&#8722;13</text>
<polyline points="69.4,193.2 70.2,193.2 71.0,193.2 71.8,193.2 72.5,193.2 73.3,193.2 74.1,193.2 74.9,193.2 75.7,193.2 76.5,193.2 77.2,193.2 78.0,193.2 78.8,193.2 79.6,193.2 80.4,193.2 81.2,193.2 82.0,155.0 82.7,193.2 83.5,193.2 84.3,193.2 85.1,193.2 85.9,193.2 86.7,193.2 87.4,193.2 88.2,193.2 89.0,193.2 89.8,193.2 90.6,193.2 91.4,193.2 92.2,193.2 92.9,193.2 93.7,193.2 94.5,193.2 95.3,193.2 96.1,193.2 96.9,193.2 97.6,193.2 98.4,193.2 99.2,193.2 100.0,193.2 100.8,193.2 101.6,193.2 102.4,193.2 103.1,193.2 103.9,193.2 104.7,193.2 105.5,193.2 106.3,193.2 107.1,191.1 107.8,193.2 108.6,193.2 109.4,193.2 110.2,193.2 111.0,193.2 111.8,193.2 112.6,193.2 113.3,193.2 114.1,193.2 114.9,193.2 115.7,193.2 116.5,193.2 117.3,193.2 118.0,193.2 118.8,193.2 119.6,193.2 120.4,193.2 121.2,193.2 122.0,193.2 122.8,193.2 123.5,193.2 124.3,193.2 125.1,193.2 125.9,193.2 126.7,193.2 127.5,193.2 128.2,193.2 129.0,193.2 129.8,193.2 130.6,193.2 131.4,193.2 132.2,190.5 133.0,193.2 133.7,193.2 134.5,193.2 135.3,193.2 136.1,193.2 136.9,193.2 137.7,193.2 138.4,193.2 139.2,193.2 140.0,193.2 140.8,193.2 141.6,193.2 142.4,193.2 143.2,193.2 143.9,193.2 144.7,193.2 145.5,193.2 146.3,193.2 147.1,193.2 147.9,193.2 148.6,193.2 149.4,193.2 150.2,193.2 151.0,193.2 151.8,193.2 152.6,193.2 153.4,193.2 154.1,193.2 154.9,193.2 155.7,193.2 156.5,193.2 157.3,193.2 158.1,193.2 158.8,193.2 159.6,193.2 160.4,193.2 161.2,193.2 162.0,193.2 162.8,193.2 163.6,193.2 164.3,193.2 165.1,193.2 165.9,193.2 166.7,193.2 167.5,193.2 168.3,193.2 169.0,193.2 169.8,193.2 170.6,193.2 171.4,193.2 172.2,193.2 173.0,193.2 173.8,193.2 174.5,193.2 175.3,193.2 176.1,193.2 176.9,193.2 177.7,193.2 178.5,193.2 179.2,193.2 180.0,193.2 180.8,193.2 181.6,193.2 182.4,182.6 183.2,193.2 184.0,193.2 184.7,193.2 185.5,193.2 186.3,193.2 187.1,193.2 187.9,193.2 188.7,193.2 189.4,193.2 190.2,193.2 191.0,193.2 191.8,193.2 192.6,193.2 193.4,193.2 194.2,193.2 194.9,193.2 195.7,193.2 196.5,193.2 197.3,193.2 198.1,193.2 198.9,193.2 199.6,193.2 200.4,193.2 201.2,193.2 202.0,193.2 202.8,193.2 203.6,193.2 204.4,193.2 205.1,193.2 205.9,193.2 206.7,193.2 207.5,191.1 208.3,193.2 209.1,193.2 209.8,193.2 210.6,193.2 211.4,193.2 212.2,193.2 213.0,193.2 213.8,193.2 214.6,193.2 215.3,193.2 216.1,193.2 216.9,193.2 217.7,193.2 218.5,193.2 219.3,193.2 220.0,193.2 220.8,193.2 221.6,193.2 222.4,193.2 223.2,193.2 224.0,193.2 224.8,193.2 225.5,193.2 226.3,193.2 227.1,193.2 227.9,193.2 228.7,193.2 229.5,193.2 230.2,192.1 231.0,193.2 231.8,193.2 232.6,193.2 233.4,193.2 234.2,193.2 235.0,193.2 235.7,193.2 236.5,193.2 237.3,193.2 238.1,193.2 238.9,193.2 239.7,193.2 240.4,193.2 241.2,193.2 242.0,193.2 242.8,193.2 243.6,193.2 244.4,193.2 245.2,193.2 245.9,193.2 246.7,193.2 247.5,193.2 248.3,193.2 249.1,193.2 249.9,193.2 250.6,193.2 251.4,193.2 252.2,193.2 253.0,193.2 253.8,193.2 254.6,193.2 255.4,193.2 256.1,193.2 256.9,193.2 257.7,193.2 258.5,193.2 259.3,193.2 260.1,193.2 260.8,193.2 261.6,193.2 262.4,193.2 263.2,193.2 264.0,193.2 264.8,193.2 265.5,193.2 266.3,193.2 267.1,193.2 267.9,193.2 268.7,193.2 269.5,193.2 270.3,190.5 271.0,193.2 271.8,193.2 272.6,193.2 273.4,193.2 274.2,193.2 275.0,193.2 275.7,193.2 276.5,193.2 277.3,193.2 278.1,193.2 278.9,193.2 279.7,193.2 280.5,193.2 281.2,193.2 282.0,190.0 282.8,132.8 283.6,193.2 284.4,193.2 285.2,193.2 285.9,193.2 286.7,193.2 287.5,193.2 288.3,193.2 289.1,193.2 289.9,193.2 290.7,193.2 291.4,193.2 292.2,193.2 293.0,193.2 293.8,193.2 294.6,193.2 295.4,193.2 296.1,193.2 296.9,193.2 297.7,193.2 298.5,193.2 299.3,193.2 300.1,193.2 300.9,193.2 301.6,193.2 302.4,193.2 303.2,193.2 304.0,193.2 304.8,193.2 305.6,193.2 306.3,193.2 307.1,193.2 307.9,184.7 308.7,193.2 309.5,193.2 310.3,193.2 311.1,193.2 311.8,193.2 312.6,193.2 313.4,193.2 314.2,193.2 315.0,193.2 315.8,193.2 316.5,193.2 317.3,193.2 318.1,193.2 318.9,193.2 319.7,193.2 320.5,193.2 321.3,193.2 322.0,193.2 322.8,193.2 323.6,193.2 324.4,193.2 325.2,193.2 326.0,193.2 326.7,193.2 327.5,193.2 328.3,193.2 329.1,193.2 329.9,193.2 330.7,193.2 331.5,193.2 332.2,193.2 333.0,185.2 333.8,193.2 334.6,193.2 335.4,193.2 336.2,193.2 336.9,193.2 337.7,193.2 338.5,193.2 339.3,193.2 340.1,193.2 340.9,193.2 341.7,193.2 342.4,193.2 343.2,193.2 344.0,193.2 344.8,193.2 345.6,193.2 346.4,193.2 347.1,193.2 347.9,193.2 348.7,193.2 349.5,193.2 350.3,193.2 351.1,193.2 351.9,193.2 352.6,193.2 353.4,193.2 354.2,193.2 355.0,193.2 355.8,193.2 356.6,193.2 357.3,193.2 358.1,193.2 358.9,193.2 359.7,193.2 360.5,193.2 361.3,193.2 362.1,193.2 362.8,193.2 363.6,193.2 364.4,193.2 365.2,193.2 366.0,193.2 366.8,193.2 367.5,193.2 368.3,193.2 369.1,193.2 369.9,193.2 370.7,193.2 371.5,193.2 372.3,193.2 373.0,193.2 373.8,193.2 374.6,193.2 375.4,193.2 376.2,193.2 377.0,193.2 377.7,193.2 378.5,193.2 379.3,193.2 380.1,193.2 380.9,193.2 381.7,193.2 382.5,168.8 383.2,193.2 384.0,193.2 384.8,193.2 385.6,193.2 386.4,193.2 387.2,193.2 387.9,193.2 388.7,193.2 389.5,193.2 390.3,193.2 391.1,193.2 391.9,193.2 392.7,193.2 393.4,193.2 394.2,193.2 395.0,193.2 395.8,193.2 396.6,193.2 397.4,193.2 398.1,193.2 398.9,193.2 399.7,193.2 400.5,193.2 401.3,193.2 402.1,193.2 402.9,193.2 403.6,193.2 404.4,193.2 405.2,193.2 406.0,193.2 406.8,193.2 407.6,189.5 408.3,193.2 409.1,193.2 409.9,193.2 410.7,193.2 411.5,193.2 412.3,193.2 413.1,193.2 413.8,193.2 414.6,193.2 415.4,193.2 416.2,193.2 417.0,193.2 417.8,193.2 418.5,193.2 419.3,193.2 420.1,193.2 420.9,193.2 421.7,193.2 422.5,193.2 423.3,193.2 424.0,193.2 424.8,193.2 425.6,193.2 426.4,193.2 427.2,193.2 428.0,193.2 428.7,193.2 429.5,193.2 430.3,193.2 431.1,193.2 431.9,193.2 432.7,193.2 433.5,190.0 434.2,193.2 435.0,193.2 435.8,193.2 436.6,193.2 437.4,193.2 438.2,193.2 438.9,193.2 439.7,193.2 440.5,193.2 441.3,193.2 442.1,193.2 442.9,193.2 443.7,193.2 444.4,193.2 445.2,193.2 446.0,193.2 446.8,193.2 447.6,193.2 448.4,193.2 449.1,193.2 449.9,193.2 450.7,193.2 451.5,193.2 452.3,193.2 453.1,193.2 453.9,193.2 454.6,193.2 455.4,193.2 456.2,193.2 457.0,193.2 457.8,193.2 458.6,193.2 459.3,193.2 460.1,193.2 460.9,193.2" fill="none" stroke="#111" stroke-width="1.3" stroke-dasharray="2.6 1.6"/>
<rect x="65.4" y="130.3" width="399.8" height="65.9" fill="none" stroke="#1e1e1e" stroke-width="1.4"/>
<line x1="62.8" y1="193.2" x2="65.4" y2="193.2" stroke="#1e1e1e" stroke-width="1"/>
<text x="61.20" y="196.15" font-size="8.8" text-anchor="end">0</text>
<line x1="62.8" y1="172.0" x2="65.4" y2="172.0" stroke="#1e1e1e" stroke-width="1"/>
<text x="61.20" y="174.95" font-size="8.8" text-anchor="end">2</text>
<line x1="62.8" y1="150.8" x2="65.4" y2="150.8" stroke="#1e1e1e" stroke-width="1"/>
<text x="61.20" y="153.75" font-size="8.8" text-anchor="end">4</text>
<line x1="69.4" y1="196.2" x2="69.4" y2="198.9" stroke="#1e1e1e" stroke-width="1"/>
<text x="69.40" y="206.70" font-size="8.8" text-anchor="middle">0</text>
<line x1="147.9" y1="196.2" x2="147.9" y2="198.9" stroke="#1e1e1e" stroke-width="1"/>
<text x="147.86" y="206.70" font-size="8.8" text-anchor="middle">100</text>
<line x1="226.3" y1="196.2" x2="226.3" y2="198.9" stroke="#1e1e1e" stroke-width="1"/>
<text x="226.32" y="206.70" font-size="8.8" text-anchor="middle">200</text>
<line x1="304.8" y1="196.2" x2="304.8" y2="198.9" stroke="#1e1e1e" stroke-width="1"/>
<text x="304.78" y="206.70" font-size="8.8" text-anchor="middle">300</text>
<line x1="383.2" y1="196.2" x2="383.2" y2="198.9" stroke="#1e1e1e" stroke-width="1"/>
<text x="383.24" y="206.70" font-size="8.8" text-anchor="middle">400</text>
<line x1="461.7" y1="196.2" x2="461.7" y2="198.9" stroke="#1e1e1e" stroke-width="1"/>
<text x="461.70" y="206.70" font-size="8.8" text-anchor="middle">500</text>
<text transform="translate(45.40,163.40) rotate(-90)" font-size="10.3" text-anchor="middle">EI</text>
<text x="221.30" y="216.70" font-size="10.4" textLength="91.8" lengthAdjust="spacingAndGlyphs">Number of candidates</text>
<rect x="374.8" y="134.5" width="86.2" height="10.5" rx="1.5" fill="#fff" fill-opacity="0.85" stroke="#dadada" stroke-width="0.8"/>
<line x1="377" y1="139.4" x2="390.7" y2="139.4" stroke="#111" stroke-width="1.3" stroke-dasharray="3.7 1.6"/>
<text x="397.80" y="141.90" font-size="7.1" textLength="61" lengthAdjust="spacingAndGlyphs" style="stroke-width:0.22px">Acquisition function</text>
<rect x="45.8" y="244.7" width="146.6" height="42.3" fill="#f3f3f3"/>
<g fill="none" stroke-linecap="round">
<path stroke="#a27e6c" stroke-opacity="0.45" stroke-width="2.6" d="M57.9 289.2h0M147.8 289.5h0"/>
<path stroke="#a27b6c" stroke-opacity="0.45" stroke-width="2.6" d="M51.0 288.5h0M63.8 288.2h0M87.2 288.3h0M96.1 288.3h0M103.6 288.5h0M181.9 287.8h0M181.2 288.3h0"/>
<path stroke="#657ba6" stroke-opacity="0.45" stroke-width="2.6" d="M68.0 342.4h0M96.5 342.1h0M99.3 342.4h0M107.0 342.3h0M112.2 342.1h0M113.2 342.4h0M117.5 342.3h0M119.3 342.0h0M122.9 342.1h0M127.7 342.3h0M129.1 342.1h0M133.4 342.1h0M136.9 342.1h0M142.9 342.3h0M149.8 342.2h0M159.3 342.3h0M159.7 342.3h0M171.3 342.2h0"/>
<path stroke="#a27b69" stroke-opacity="0.45" stroke-width="2.6" d="M58.5 287.5h0M62.0 287.2h0M65.3 286.7h0M78.1 287.5h0M116.0 286.2h0M121.1 286.7h0M142.0 287.3h0M151.4 286.7h0M155.1 287.7h0M156.5 286.7h0M159.5 286.2h0M120.2 286.6h0M178.4 286.6h0"/>
<path stroke="#6577a6" stroke-opacity="0.45" stroke-width="2.6" d="M48.3 343.0h0M62.7 342.8h0M65.8 342.7h0M71.0 343.1h0M78.3 342.9h0M78.7 342.9h0M83.9 343.0h0M89.4 342.6h0M97.2 342.6h0M104.0 343.1h0M105.4 343.1h0M105.9 342.9h0M109.2 342.6h0M126.5 342.9h0M127.1 343.0h0M132.5 342.8h0M133.5 342.6h0M145.1 342.8h0M152.4 342.6h0M162.7 342.5h0M165.7 342.5h0M169.9 342.6h0M178.0 342.9h0"/>
<path stroke="#a27769" stroke-opacity="0.45" stroke-width="2.6" d="M74.4 286.1h0M105.4 286.2h0M145.7 285.9h0"/>
<path stroke="#6177a6" stroke-opacity="0.45" stroke-width="2.6" d="M46.6 343.9h0M47.7 344.5h0M48.8 343.3h0M55.0 344.5h0M56.7 344.4h0M58.1 343.6h0M63.5 344.3h0M68.4 343.5h0M67.9 343.4h0M71.2 344.3h0M73.4 343.5h0M82.5 344.4h0M83.3 343.9h0M83.7 344.2h0M86.0 343.5h0M90.8 343.3h0M95.1 344.1h0M94.7 343.7h0M95.7 343.4h0M98.9 344.3h0M101.5 343.9h0M104.3 343.9h0M105.0 343.8h0M111.5 343.8h0M115.0 345.0h0M114.8 344.3h0M116.9 343.2h0M116.7 343.9h0M125.4 345.0h0M126.4 343.8h0M127.1 344.0h0M132.6 343.5h0M137.4 343.5h0M137.5 343.2h0M138.1 343.9h0M138.9 344.8h0M142.5 343.9h0M143.0 344.0h0M147.7 344.1h0M150.1 343.3h0M150.3 343.8h0M152.4 344.5h0M158.8 343.4h0M162.0 343.7h0M168.4 343.4h0M168.6 343.2h0M171.4 343.8h0M170.9 344.6h0M171.7 343.7h0M173.6 345.0h0M175.8 344.6h0M177.2 344.3h0M179.0 343.1h0M183.8 344.7h0"/>
<path stroke="#a27765" stroke-opacity="0.45" stroke-width="2.6" d="M154.8 285.3h0M119.9 283.9h0"/>
<path stroke="#6173a6" stroke-opacity="0.45" stroke-width="2.6" d="M68.0 345.4h0M75.8 345.1h0M83.3 345.3h0M142.3 345.4h0M152.4 345.4h0M153.9 345.1h0M171.1 345.2h0M175.3 345.2h0"/>
<path stroke="#5e73a6" stroke-opacity="0.45" stroke-width="2.6" d="M60.1 346.9h0M64.4 345.9h0M70.7 345.9h0M76.6 346.1h0M79.6 345.9h0M80.4 346.6h0M81.3 346.1h0M93.5 346.3h0M95.5 345.9h0M106.6 345.6h0M108.5 345.9h0M110.7 346.0h0M112.2 345.4h0M125.8 346.6h0M131.5 346.8h0M138.8 345.5h0M145.0 346.6h0M165.1 347.0h0M168.6 346.7h0M172.9 347.3h0M179.3 347.2h0M181.6 345.7h0M182.1 346.6h0"/>
<path stroke="#a27361" stroke-opacity="0.45" stroke-width="2.6" d="M130.1 283.0h0M123.7 282.0h0"/>
<path stroke="#5e70a6" stroke-opacity="0.45" stroke-width="2.6" d="M92.3 347.4h0M156.6 347.5h0M165.1 347.5h0"/>
<path stroke="#5e70a2" stroke-opacity="0.45" stroke-width="2.6" d="M118.0 347.6h0M157.0 347.7h0"/>
<path stroke="#5a70a2" stroke-opacity="0.45" stroke-width="2.6" d="M59.7 349.2h0M61.3 348.2h0M70.9 349.1h0M70.6 347.8h0M91.4 349.1h0M111.9 349.3h0M129.0 348.8h0M134.2 348.3h0M136.0 349.3h0M137.7 348.3h0M140.8 348.6h0M143.9 347.9h0M150.7 348.5h0M150.7 348.8h0M166.1 349.1h0"/>
<path stroke="#9f705a" stroke-opacity="0.45" stroke-width="2.6" d="M129.3 279.4h0"/>
<path stroke="#9f6c5a" stroke-opacity="0.45" stroke-width="2.6" d="M160.6 278.4h0M173.8 278.4h0"/>
<path stroke="#9f6553" stroke-opacity="0.45" stroke-width="2.6" d="M139.9 273.5h0"/>
<path stroke="#9f614f" stroke-opacity="0.45" stroke-width="2.6" d="M160.7 271.6h0"/>
<path stroke="#90453a" stroke-opacity="0.45" stroke-width="2.6" d="M166.3 258.8h0"/>
<path stroke="#ccd8ea" stroke-opacity="0.75" stroke-width="2.0" d="M47.0 317.3h0M47.1 318.4h0M48.4 317.1h0M49.7 318.1h0M49.5 318.2h0M49.3 317.8h0M50.1 318.6h0M51.0 317.6h0M51.7 317.6h0M53.4 317.7h0M56.4 318.1h0M56.6 318.5h0M57.1 318.8h0M58.2 318.0h0M59.0 317.8h0M59.2 318.0h0M59.9 316.8h0M61.9 316.5h0M62.0 318.0h0M62.9 317.8h0M63.6 317.4h0M64.2 317.3h0M64.6 318.7h0M64.7 319.0h0M65.6 316.8h0M66.0 318.0h0M66.8 317.6h0M68.0 317.6h0M69.7 317.9h0M70.0 318.6h0M70.6 318.6h0M70.8 316.5h0M73.1 318.9h0M72.7 317.7h0M73.4 318.6h0M73.7 317.0h0M73.4 316.7h0M75.0 317.5h0M75.0 318.7h0M74.9 317.3h0M75.5 318.3h0M75.6 318.9h0M77.1 318.8h0M79.8 316.9h0M79.7 316.8h0M79.9 318.2h0M80.3 317.5h0M81.8 316.7h0M81.9 318.5h0M82.1 316.5h0M81.7 317.7h0M82.5 317.2h0M82.2 318.0h0M84.4 316.7h0M84.6 317.0h0M85.9 318.1h0M86.6 316.5h0M87.9 316.8h0M88.8 317.8h0M88.6 316.8h0M88.5 317.4h0M90.0 317.5h0M89.9 316.9h0M92.9 317.1h0M92.9 316.7h0M92.7 316.7h0M94.9 319.0h0M96.0 318.7h0M96.6 318.2h0M96.3 317.8h0M97.8 318.1h0M97.9 316.7h0M97.4 318.4h0M97.6 318.4h0M98.4 317.6h0M98.7 317.2h0M98.9 318.9h0M99.7 316.7h0M99.6 317.2h0M100.6 316.9h0M100.1 317.3h0M100.8 318.8h0M101.1 318.7h0M102.7 318.5h0M105.1 316.5h0M105.5 318.9h0M105.1 317.1h0M106.0 316.9h0M106.4 318.3h0M106.6 317.1h0M108.0 316.4h0M108.6 317.5h0M109.5 318.4h0M110.3 318.3h0M110.2 318.4h0M110.4 318.9h0M112.0 318.3h0M113.5 318.9h0M114.2 317.7h0M114.3 318.7h0M114.7 317.3h0M115.2 317.5h0M116.0 318.1h0M116.6 317.6h0M117.6 317.2h0M117.7 317.5h0M117.8 318.1h0M118.1 318.7h0M118.0 316.5h0M118.9 319.0h0M118.8 316.5h0M119.5 318.6h0M121.9 317.8h0M121.9 318.8h0M123.6 317.2h0M123.5 319.0h0M124.4 318.4h0M125.3 317.0h0M126.7 317.1h0M126.7 316.5h0M127.5 318.9h0M128.8 317.1h0M129.1 318.7h0M129.7 316.5h0M129.9 318.8h0M130.9 317.3h0M131.2 316.9h0M131.4 316.9h0M131.0 318.4h0M132.1 317.8h0M132.0 317.1h0M132.4 317.4h0M135.4 318.2h0M136.1 318.6h0M136.7 318.8h0M138.2 316.9h0M139.1 318.0h0M138.8 317.0h0M138.8 317.7h0M139.3 317.3h0M139.6 318.9h0M141.4 318.8h0M143.7 316.8h0M144.1 318.3h0M144.6 318.3h0M145.6 318.0h0M146.6 318.2h0M146.5 316.9h0M147.3 318.1h0M147.8 318.6h0M148.4 318.3h0M148.3 317.8h0M149.0 318.2h0M149.4 316.9h0M150.6 318.0h0M150.4 318.1h0M151.6 316.9h0M152.4 317.4h0M153.3 317.6h0M154.0 317.2h0M154.2 317.7h0M154.5 317.8h0M154.9 317.7h0M156.2 318.1h0M156.0 317.7h0M158.3 317.7h0M158.1 318.6h0M157.9 317.5h0M158.7 318.2h0M161.4 318.1h0M162.0 317.2h0M164.7 316.8h0M167.8 317.0h0M167.9 318.5h0M169.0 316.5h0M170.1 317.6h0M170.2 317.1h0M170.7 317.3h0M170.9 316.7h0M171.9 318.9h0M173.3 318.2h0M173.5 316.9h0M173.4 316.8h0M173.7 316.7h0M175.2 317.5h0M175.0 318.8h0M175.1 317.8h0M176.2 318.3h0M176.5 316.7h0M177.5 318.8h0M177.6 318.7h0M179.4 318.8h0M180.2 318.4h0M180.0 317.0h0M183.1 317.7h0M183.6 317.3h0M183.6 317.1h0"/>
<path stroke="#d2d8e4" stroke-opacity="0.75" stroke-width="2.0" d="M47.0 315.6h0M49.0 313.6h0M49.3 313.7h0M49.8 316.0h0M50.3 315.5h0M53.8 313.7h0M54.2 314.5h0M55.1 314.8h0M56.0 314.3h0M56.3 315.8h0M57.2 315.9h0M57.6 315.0h0M59.7 315.2h0M60.4 314.1h0M61.2 315.3h0M61.3 315.6h0M62.8 313.5h0M63.4 314.6h0M64.1 315.1h0M67.4 314.5h0M68.2 315.7h0M68.9 315.0h0M68.5 315.2h0M69.0 314.2h0M69.6 316.1h0M69.3 316.0h0M69.5 315.1h0M71.5 314.4h0M72.0 314.8h0M72.5 315.7h0M72.9 316.2h0M76.1 313.5h0M78.0 314.6h0M79.9 315.5h0M82.5 313.4h0M84.9 315.6h0M87.3 314.6h0M89.7 315.6h0M90.3 314.5h0M89.9 314.2h0M92.2 313.7h0M94.1 315.3h0M96.7 315.5h0M97.0 315.6h0M97.1 314.4h0M97.6 314.9h0M99.5 314.6h0M99.8 314.1h0M101.0 313.8h0M101.7 314.4h0M102.5 314.0h0M103.6 315.6h0M105.8 313.8h0M105.7 314.9h0M106.6 315.9h0M107.8 314.1h0M109.5 314.7h0M109.3 314.4h0M111.3 316.1h0M112.9 315.7h0M114.0 316.0h0M116.6 315.8h0M117.5 314.5h0M120.1 314.4h0M121.1 315.5h0M120.7 313.8h0M122.4 313.6h0M123.5 313.9h0M125.4 315.9h0M125.3 314.2h0M125.9 316.0h0M126.1 313.5h0M127.8 314.3h0M127.7 315.5h0M127.6 316.1h0M132.8 313.6h0M133.9 315.6h0M134.9 315.3h0M135.9 315.5h0M136.0 315.1h0M137.0 313.9h0M136.9 313.5h0M137.5 315.8h0M138.3 314.5h0M140.0 314.5h0M140.0 315.4h0M140.4 315.8h0M144.7 316.1h0M144.6 313.6h0M145.2 315.8h0M145.4 314.1h0M146.2 316.1h0M147.9 313.8h0M148.3 314.8h0M148.6 314.7h0M151.6 314.1h0M152.5 314.5h0M154.2 315.0h0M153.8 313.6h0M154.9 314.7h0M155.5 314.7h0M156.7 315.2h0M160.7 315.8h0M161.9 315.9h0M162.3 315.6h0M166.8 314.2h0M167.6 313.7h0M168.7 315.4h0M170.2 315.1h0M171.2 313.7h0M177.4 314.9h0M180.1 315.1h0M180.9 313.8h0M181.6 314.4h0M182.4 315.1h0M183.0 315.1h0M183.1 315.3h0"/>
<path stroke="#c6d8f0" stroke-opacity="0.75" stroke-width="2.0" d="M48.2 319.9h0M51.6 320.1h0M55.6 319.9h0M58.9 320.2h0M60.3 320.4h0M62.2 320.4h0M63.4 319.9h0M64.5 319.9h0M65.4 320.0h0M66.7 320.2h0M70.9 320.1h0M78.0 319.9h0M77.9 319.9h0M79.3 320.3h0M81.8 320.1h0M84.5 319.9h0M86.9 320.1h0M88.2 320.0h0M94.7 319.9h0M97.0 320.0h0M98.1 320.0h0M98.9 320.2h0M103.2 320.3h0M106.4 320.1h0M107.4 319.9h0M110.9 320.2h0M112.9 320.2h0M113.3 320.1h0M113.9 320.0h0M115.5 320.0h0M116.2 320.0h0M124.7 320.3h0M134.8 320.2h0M135.5 320.3h0M138.7 320.3h0M142.7 320.4h0M143.9 320.3h0M146.3 320.1h0M149.8 320.2h0M156.3 320.0h0M161.3 320.3h0M165.0 320.0h0M165.4 320.3h0M165.4 320.0h0M167.9 320.1h0M172.0 320.2h0M172.4 320.1h0M173.0 320.2h0M174.7 320.3h0M178.6 320.4h0M180.2 320.0h0M179.9 319.9h0M180.2 320.2h0M184.0 320.0h0M183.9 319.9h0"/>
<path stroke="#e4d8d2" stroke-opacity="0.75" stroke-width="2.0" d="M48.8 306.6h0M58.6 306.7h0M88.5 306.5h0M96.4 306.7h0M96.9 306.6h0M101.6 306.7h0M103.3 306.7h0M110.9 306.5h0M118.3 306.9h0M125.3 306.6h0M143.4 306.4h0M146.7 306.9h0M161.7 306.7h0M174.6 306.5h0M175.8 306.9h0"/>
<path stroke="#d8d8de" stroke-opacity="0.75" stroke-width="2.0" d="M49.7 311.8h0M50.6 311.1h0M50.7 311.3h0M52.2 311.9h0M52.4 310.9h0M55.7 311.8h0M56.3 311.0h0M58.6 312.5h0M62.7 310.6h0M68.8 312.4h0M73.0 311.7h0M72.9 311.2h0M72.6 311.1h0M73.5 313.0h0M75.2 312.1h0M77.2 310.7h0M77.6 312.3h0M79.1 310.8h0M80.0 310.7h0M82.3 310.7h0M82.2 312.7h0M85.0 312.5h0M86.9 312.3h0M89.6 311.1h0M90.0 312.5h0M92.3 311.5h0M92.9 312.3h0M94.3 310.8h0M93.9 313.2h0M100.3 312.8h0M105.4 312.9h0M109.7 311.3h0M112.0 313.0h0M112.0 311.8h0M111.8 310.7h0M114.2 312.9h0M116.6 310.9h0M117.5 311.1h0M117.3 311.5h0M119.0 312.7h0M121.4 311.3h0M126.6 312.3h0M129.9 312.5h0M133.9 311.9h0M135.6 311.6h0M140.7 312.0h0M142.3 312.9h0M142.7 312.8h0M143.9 312.0h0M144.5 312.8h0M145.5 312.2h0M145.4 312.6h0M145.8 310.9h0M148.6 310.7h0M149.1 312.6h0M151.3 312.8h0M153.3 312.6h0M154.1 312.3h0M154.3 313.3h0M157.1 312.2h0M162.3 311.9h0M161.9 312.5h0M163.2 311.7h0M164.9 310.9h0M165.8 313.2h0M165.4 312.3h0M167.6 310.8h0M168.4 312.7h0M169.2 311.3h0M169.9 311.6h0M172.6 311.6h0M175.2 311.8h0M176.7 311.3h0M178.8 311.8h0M180.3 312.3h0M180.9 313.0h0M184.3 311.8h0"/>
<path stroke="#ded8d8" stroke-opacity="0.75" stroke-width="2.0" d="M63.4 308.7h0M63.8 308.6h0M68.9 309.6h0M70.3 309.8h0M72.4 308.5h0M72.1 308.6h0M81.7 309.0h0M84.1 309.7h0M83.7 309.4h0M84.6 308.7h0M85.3 309.1h0M90.2 308.9h0M99.8 309.0h0M111.2 309.3h0M113.9 309.7h0M130.4 310.0h0M132.2 309.5h0M131.9 308.9h0M132.2 309.6h0M132.5 310.1h0M140.0 309.0h0M140.6 309.2h0M146.4 308.8h0M152.9 309.6h0M154.4 310.0h0M158.6 308.5h0M159.9 309.3h0M161.6 309.0h0M166.6 309.1h0M167.2 309.7h0M175.7 309.6h0M181.9 309.1h0"/>
<path stroke="#c6d2f0" stroke-opacity="0.75" stroke-width="2.0" d="M47.2 321.1h0M49.7 321.3h0M51.2 321.0h0M52.9 321.2h0M54.2 320.7h0M54.5 320.6h0M55.7 320.4h0M55.8 320.8h0M59.4 321.2h0M59.7 320.6h0M61.8 320.7h0M62.7 320.8h0M64.1 320.8h0M68.2 320.4h0M69.6 321.2h0M71.4 321.4h0M72.2 321.3h0M73.6 320.6h0M73.3 320.4h0M74.0 321.4h0M74.2 320.6h0M76.5 320.7h0M77.2 321.3h0M77.9 320.6h0M78.4 320.9h0M79.9 321.5h0M80.6 321.1h0M81.3 321.4h0M81.1 320.4h0M80.9 321.1h0M82.1 321.4h0M81.7 321.0h0M82.0 320.9h0M84.4 321.4h0M86.1 320.9h0M87.6 320.8h0M87.6 320.6h0M88.5 320.8h0M89.5 321.2h0M90.1 321.1h0M91.2 321.4h0M92.4 321.3h0M95.2 320.4h0M94.9 321.2h0M97.0 320.6h0M98.2 321.1h0M99.0 321.5h0M102.9 321.4h0M102.9 321.5h0M106.4 320.5h0M106.3 321.5h0M108.1 321.0h0M109.4 320.6h0M109.9 320.7h0M111.5 320.4h0M111.9 321.2h0M115.4 320.8h0M117.1 320.9h0M119.0 320.4h0M118.8 320.5h0M119.4 320.8h0M120.9 320.4h0M123.7 321.2h0M124.4 320.9h0M125.0 321.4h0M126.1 321.0h0M126.9 320.9h0M128.3 321.2h0M128.8 320.9h0M129.3 320.5h0M130.4 321.4h0M132.7 321.4h0M134.3 321.1h0M134.7 321.2h0M137.1 320.7h0M138.2 321.5h0M140.4 321.5h0M141.8 320.6h0M141.3 320.5h0M144.6 320.7h0M144.7 320.7h0M144.8 321.3h0M145.0 321.3h0M145.6 321.4h0M146.5 321.2h0M147.0 321.5h0M147.3 321.4h0M147.2 320.9h0M148.3 321.1h0M149.4 320.8h0M149.1 320.5h0M150.5 320.6h0M151.9 320.9h0M153.3 321.5h0M153.4 320.8h0M153.7 320.5h0M154.4 321.5h0M156.6 321.4h0M157.3 321.0h0M157.4 321.5h0M161.9 320.7h0M162.6 321.4h0M162.8 320.6h0M166.3 321.1h0M167.2 321.1h0M167.5 320.9h0M171.0 320.9h0M172.5 321.2h0M173.0 321.4h0M173.4 321.4h0M174.6 320.6h0M175.7 320.5h0M176.1 321.2h0M176.4 320.9h0M179.6 320.5h0M181.4 321.0h0M181.6 320.5h0M184.3 320.7h0"/>
<path stroke="#c6d8ea" stroke-opacity="0.75" stroke-width="2.0" d="M48.2 319.5h0M48.6 319.6h0M50.6 319.5h0M52.1 319.6h0M55.2 319.5h0M63.2 319.6h0M64.2 319.8h0M66.3 319.7h0M66.0 319.3h0M66.7 319.6h0M66.7 319.4h0M67.0 319.7h0M66.6 319.6h0M69.4 319.2h0M71.1 319.3h0M70.8 319.2h0M75.6 319.2h0M78.4 319.3h0M78.2 319.7h0M82.5 319.3h0M94.1 319.6h0M94.9 319.5h0M94.8 319.7h0M96.4 319.0h0M101.1 319.4h0M101.6 319.9h0M102.6 319.1h0M106.5 319.8h0M110.1 319.4h0M111.6 319.1h0M112.1 319.5h0M116.0 319.0h0M116.6 319.5h0M116.9 319.2h0M117.6 319.8h0M118.3 319.5h0M118.5 319.4h0M119.0 319.1h0M119.8 319.6h0M120.3 319.2h0M121.1 319.2h0M121.7 319.6h0M124.9 319.3h0M125.9 319.0h0M129.9 319.6h0M130.8 319.5h0M131.4 319.4h0M132.7 319.7h0M133.2 319.4h0M133.3 319.3h0M133.4 319.2h0M136.8 319.1h0M137.6 319.1h0M142.6 319.3h0M145.2 319.1h0M145.2 319.7h0M147.4 319.5h0M147.9 319.2h0M152.4 319.2h0M152.6 319.1h0M153.5 319.3h0M157.1 319.1h0M157.4 319.1h0M160.4 319.3h0M162.0 319.7h0M162.9 319.2h0M164.7 319.5h0M168.6 319.4h0M170.3 319.1h0M175.1 319.2h0M178.0 319.1h0M183.0 319.4h0M182.8 319.3h0M183.6 319.2h0"/>
<path stroke="#ded8d2" stroke-opacity="0.75" stroke-width="2.0" d="M50.3 307.9h0M50.6 307.3h0M51.6 307.8h0M59.3 307.1h0M59.8 307.2h0M62.2 307.7h0M66.0 307.0h0M70.6 308.3h0M74.2 308.3h0M75.6 308.0h0M77.5 307.1h0M79.9 307.9h0M85.9 307.0h0M88.6 307.9h0M90.6 308.2h0M91.4 308.0h0M111.4 307.4h0M126.5 308.3h0M126.2 308.3h0M135.5 308.0h0M144.5 307.4h0M152.2 308.2h0M152.6 308.2h0M158.2 307.9h0M163.6 307.8h0M181.4 307.0h0M184.2 307.0h0"/>
<path stroke="#d2d8de" stroke-opacity="0.75" stroke-width="2.0" d="M52.1 313.4h0M59.9 313.3h0M86.2 313.3h0M119.4 313.3h0M155.5 313.3h0M155.2 313.3h0M180.5 313.3h0"/>
<path stroke="#d8d8d8" stroke-opacity="0.75" stroke-width="2.0" d="M61.1 310.3h0M76.5 310.6h0M97.0 310.2h0M119.4 310.3h0M132.6 310.1h0M169.6 310.6h0M173.6 310.3h0M179.7 310.6h0"/>
<path stroke="#ccd8e4" stroke-opacity="0.75" stroke-width="2.0" d="M78.2 316.4h0M98.8 316.4h0M128.5 316.4h0M176.7 316.3h0M184.0 316.3h0M184.4 316.4h0"/>
<path stroke="#e4d8cc" stroke-opacity="0.75" stroke-width="2.0" d="M95.4 306.3h0M125.0 305.9h0M131.4 306.2h0M149.1 305.9h0M163.8 306.2h0"/>
<path stroke="#c0d2f0" stroke-opacity="0.75" stroke-width="2.0" d="M46.7 323.9h0M46.5 322.4h0M46.8 322.9h0M46.8 321.7h0M47.3 322.9h0M47.6 322.6h0M48.0 321.8h0M48.2 323.4h0M48.8 323.5h0M48.6 323.6h0M48.7 322.1h0M48.8 323.6h0M48.7 323.6h0M49.7 323.9h0M50.4 322.8h0M50.9 323.6h0M51.9 322.0h0M51.7 323.8h0M51.4 321.9h0M52.2 323.8h0M52.2 322.3h0M52.2 323.9h0M52.8 323.5h0M52.7 321.8h0M52.9 323.8h0M54.1 323.3h0M54.1 322.0h0M54.1 322.8h0M55.2 321.7h0M54.9 323.8h0M55.7 322.8h0M55.9 322.8h0M56.0 322.7h0M56.0 322.5h0M56.0 321.9h0M56.5 323.6h0M56.7 323.3h0M58.3 321.6h0M58.6 323.4h0M59.1 323.9h0M59.8 323.9h0M60.4 322.3h0M60.6 323.5h0M61.8 323.5h0M62.8 322.4h0M63.6 323.9h0M64.3 322.7h0M63.8 322.9h0M64.0 322.6h0M63.9 322.1h0M64.5 322.5h0M65.5 322.5h0M65.5 322.1h0M65.4 322.0h0M66.0 323.6h0M65.9 321.7h0M66.5 323.8h0M67.5 323.6h0M67.4 324.0h0M68.1 322.2h0M68.1 323.8h0M68.1 322.1h0M68.7 321.7h0M68.9 323.5h0M68.8 323.9h0M71.6 321.6h0M71.6 321.9h0M71.7 323.0h0M72.3 321.6h0M72.8 323.0h0M73.5 323.0h0M74.5 322.4h0M75.2 322.9h0M76.6 323.1h0M76.2 323.8h0M76.1 322.8h0M77.2 323.0h0M77.6 323.2h0M78.5 323.9h0M78.9 323.5h0M80.1 323.7h0M81.2 323.3h0M81.1 322.3h0M81.8 322.1h0M81.9 322.5h0M82.8 323.6h0M83.5 322.4h0M84.2 323.9h0M84.0 321.7h0M84.4 322.3h0M85.0 323.8h0M85.0 323.7h0M86.0 323.2h0M86.2 323.9h0M86.0 322.2h0M86.6 322.6h0M86.6 324.1h0M87.3 322.8h0M88.0 321.6h0M88.8 322.7h0M88.6 321.6h0M88.6 323.6h0M88.6 323.7h0M89.3 322.5h0M90.4 321.9h0M91.0 322.5h0M91.6 322.8h0M91.9 321.7h0M92.3 322.6h0M92.0 322.4h0M92.1 323.6h0M92.8 322.1h0M92.6 323.6h0M93.0 322.8h0M93.0 323.9h0M93.8 323.0h0M93.3 321.7h0M95.7 322.8h0M95.4 322.3h0M95.6 323.7h0M96.1 323.3h0M96.1 322.3h0M97.2 323.5h0M97.8 323.1h0M98.2 323.6h0M98.4 323.4h0M99.3 323.4h0M99.5 322.1h0M99.8 323.9h0M99.4 322.1h0M99.8 323.2h0M100.7 322.6h0M101.0 323.7h0M101.2 322.1h0M101.2 322.9h0M101.9 323.6h0M101.9 323.0h0M102.2 322.2h0M102.6 321.9h0M103.0 321.7h0M103.2 321.8h0M104.3 323.1h0M104.3 323.0h0M105.2 323.5h0M105.1 323.9h0M105.4 322.4h0M105.7 323.6h0M105.6 323.4h0M106.4 324.0h0M106.5 323.9h0M107.0 322.8h0M107.0 323.6h0M108.2 322.7h0M109.5 324.0h0M110.1 321.8h0M111.5 323.8h0M111.3 322.4h0M112.3 321.8h0M112.5 324.0h0M112.9 323.4h0M113.0 322.1h0M113.7 322.1h0M113.9 323.9h0M114.3 322.0h0M115.0 323.6h0M115.5 323.6h0M115.4 321.8h0M115.8 322.2h0M116.3 323.4h0M117.0 322.7h0M117.4 323.4h0M118.2 323.9h0M118.8 323.9h0M118.9 322.4h0M119.6 323.4h0M119.8 323.6h0M119.4 322.1h0M120.2 321.7h0M121.0 323.1h0M120.8 322.7h0M121.1 323.3h0M120.9 322.9h0M122.0 323.8h0M121.8 322.4h0M122.3 322.8h0M122.9 322.3h0M123.1 322.3h0M124.6 324.0h0M124.6 322.3h0M124.9 322.2h0M126.4 322.8h0M127.4 322.6h0M126.9 323.2h0M127.8 322.0h0M128.1 323.7h0M129.2 322.9h0M129.2 323.4h0M129.3 322.7h0M129.8 323.3h0M130.9 322.2h0M130.3 323.3h0M132.1 323.4h0M132.1 322.6h0M133.2 322.6h0M133.2 322.9h0M134.7 323.8h0M135.3 323.3h0M135.2 323.9h0M135.2 321.9h0M135.4 323.4h0M135.3 322.0h0M136.4 322.5h0M136.3 323.6h0M136.8 321.9h0M136.7 323.5h0M137.5 322.5h0M137.3 322.1h0M137.7 324.0h0M138.4 322.7h0M138.1 322.3h0M138.4 323.7h0M139.4 324.0h0M139.5 322.6h0M139.3 321.8h0M139.4 323.6h0M141.2 322.6h0M140.9 323.1h0M141.0 321.6h0M141.7 322.3h0M141.4 323.9h0M142.8 322.0h0M143.1 322.2h0M143.2 321.7h0M143.7 321.9h0M144.8 323.1h0M145.7 323.5h0M146.3 323.7h0M147.3 322.0h0M147.3 323.5h0M147.7 324.0h0M147.7 321.7h0M147.5 322.7h0M148.7 323.7h0M148.7 322.3h0M149.2 321.9h0M149.6 322.2h0M150.0 322.3h0M150.7 323.0h0M150.9 322.0h0M151.0 323.8h0M152.0 321.6h0M152.2 321.6h0M153.2 322.9h0M153.9 321.6h0M154.0 324.1h0M154.1 322.8h0M153.9 323.8h0M154.6 323.4h0M154.8 323.2h0M155.3 323.6h0M156.1 322.3h0M155.8 321.7h0M156.6 322.1h0M156.8 322.4h0M156.5 322.7h0M157.2 323.1h0M157.7 323.1h0M158.2 323.0h0M158.0 323.2h0M159.7 322.4h0M159.2 323.1h0M159.2 323.2h0M160.9 323.3h0M161.3 321.9h0M162.1 322.5h0M162.9 322.4h0M163.0 323.5h0M163.8 323.1h0M163.5 321.8h0M163.7 322.1h0M163.7 323.1h0M164.1 323.7h0M164.7 323.6h0M166.1 323.9h0M166.9 323.7h0M166.8 323.6h0M167.1 322.1h0M167.5 323.2h0M168.3 322.0h0M168.2 323.5h0M169.1 322.1h0M169.0 323.8h0M169.8 323.5h0M170.2 322.3h0M170.2 324.0h0M170.6 322.4h0M170.4 323.2h0M170.6 322.8h0M171.8 322.0h0M172.7 322.7h0M172.6 321.8h0M172.4 322.6h0M173.6 322.2h0M176.5 322.4h0M176.8 323.8h0M176.8 323.1h0M176.8 321.7h0M177.5 323.4h0M178.1 322.6h0M178.3 321.7h0M177.9 322.7h0M178.7 321.6h0M179.1 323.1h0M179.9 323.7h0M180.0 322.4h0M180.2 321.7h0M180.8 323.1h0M182.2 323.4h0M182.4 321.9h0M182.3 322.6h0M182.3 323.7h0M182.8 321.9h0M182.9 322.9h0M183.3 322.7h0M183.4 322.1h0M183.9 323.9h0"/>
<path stroke="#bad2f6" stroke-opacity="0.75" stroke-width="2.0" d="M47.0 324.7h0M47.3 325.3h0M47.6 325.4h0M48.3 325.7h0M47.9 325.3h0M49.1 325.7h0M48.8 325.7h0M48.8 324.5h0M49.4 324.7h0M50.2 325.1h0M50.2 325.4h0M52.1 325.4h0M52.5 324.8h0M53.1 326.0h0M53.1 325.4h0M53.6 324.6h0M54.4 325.8h0M54.2 325.6h0M55.3 324.9h0M56.3 325.5h0M56.3 324.4h0M56.3 325.7h0M56.9 324.7h0M57.1 325.8h0M56.9 325.8h0M57.7 325.3h0M57.8 325.8h0M57.8 324.8h0M59.4 325.8h0M60.1 325.5h0M59.9 324.9h0M60.3 326.0h0M60.6 324.4h0M60.6 325.3h0M61.1 324.9h0M61.2 325.0h0M61.1 325.6h0M61.1 325.7h0M61.1 325.0h0M61.1 325.5h0M62.8 324.5h0M63.0 324.9h0M64.5 325.9h0M64.5 325.6h0M65.3 325.7h0M65.4 324.7h0M66.2 324.5h0M67.0 325.8h0M67.6 324.6h0M68.2 324.6h0M68.9 325.3h0M68.5 325.7h0M69.6 325.9h0M70.3 324.7h0M70.2 324.7h0M70.0 325.6h0M71.0 325.3h0M72.0 325.3h0M72.3 325.7h0M72.5 325.1h0M73.1 325.9h0M73.4 324.6h0M74.5 325.4h0M75.1 324.4h0M77.1 324.7h0M76.9 324.4h0M77.1 324.8h0M77.7 324.5h0M77.5 324.4h0M77.8 325.6h0M79.3 324.8h0M78.9 325.0h0M79.9 325.4h0M80.5 324.6h0M80.2 325.7h0M80.2 325.5h0M80.2 325.4h0M82.1 325.2h0M82.7 324.4h0M82.9 324.4h0M83.2 325.0h0M83.3 325.2h0M82.9 325.6h0M84.0 325.3h0M85.1 324.4h0M85.4 325.3h0M86.2 325.4h0M88.0 324.6h0M87.8 325.2h0M88.8 325.1h0M89.4 324.3h0M90.3 324.8h0M90.6 325.4h0M91.4 325.7h0M91.6 324.6h0M91.6 325.0h0M91.7 325.8h0M92.4 324.4h0M92.6 324.3h0M92.7 325.9h0M93.8 325.9h0M93.4 325.2h0M94.9 325.4h0M95.7 325.0h0M96.4 325.9h0M97.4 325.9h0M98.4 325.9h0M98.2 324.8h0M99.0 324.8h0M100.4 325.2h0M100.1 325.4h0M100.7 325.6h0M100.5 325.5h0M100.3 324.7h0M100.8 325.7h0M101.0 325.6h0M101.6 325.9h0M102.9 325.1h0M103.8 324.5h0M104.1 325.8h0M103.8 325.8h0M104.7 325.3h0M104.7 325.3h0M105.1 325.0h0M105.5 325.1h0M105.7 325.4h0M106.9 325.6h0M107.1 324.4h0M110.0 324.9h0M110.2 324.3h0M109.9 325.7h0M110.4 325.5h0M112.7 326.0h0M112.6 325.9h0M113.0 324.3h0M113.2 324.5h0M115.3 325.6h0M115.7 325.4h0M115.5 325.8h0M115.3 324.6h0M115.7 325.1h0M116.4 325.6h0M116.1 324.9h0M116.0 325.8h0M116.1 324.8h0M116.9 325.7h0M119.0 324.7h0M118.8 324.7h0M120.3 325.5h0M120.5 325.4h0M121.6 325.9h0M121.6 325.3h0M122.6 324.5h0M122.1 325.9h0M122.6 325.7h0M122.1 324.8h0M123.1 325.8h0M123.8 324.4h0M124.7 325.3h0M125.1 325.8h0M124.9 324.8h0M126.0 325.3h0M126.6 324.5h0M126.6 325.7h0M126.2 325.3h0M127.4 325.6h0M127.3 324.8h0M127.1 325.4h0M127.0 324.5h0M128.0 324.7h0M128.1 325.9h0M127.9 324.7h0M128.8 324.7h0M129.1 325.2h0M129.1 325.0h0M129.5 325.2h0M130.0 324.5h0M129.7 324.7h0M130.0 325.9h0M130.7 325.3h0M130.9 325.0h0M131.3 324.9h0M131.3 324.8h0M131.7 325.4h0M132.7 324.7h0M132.9 326.0h0M133.6 324.7h0M133.9 325.5h0M134.9 325.9h0M134.6 325.1h0M134.9 325.3h0M135.6 325.6h0M136.0 324.5h0M137.0 325.3h0M139.6 326.0h0M139.7 325.8h0M140.0 325.5h0M141.1 325.6h0M141.7 324.7h0M141.5 324.7h0M141.3 325.9h0M141.7 325.9h0M142.5 325.9h0M144.2 324.8h0M145.1 325.3h0M145.1 326.0h0M147.8 325.8h0M148.5 326.0h0M148.5 325.5h0M149.9 324.9h0M150.8 324.5h0M151.1 325.5h0M151.4 325.2h0M152.1 324.7h0M152.8 325.9h0M152.7 326.0h0M152.6 325.9h0M153.2 325.8h0M154.8 325.3h0M154.5 325.7h0M155.3 325.7h0M155.9 324.6h0M156.9 325.8h0M157.1 325.6h0M157.5 325.1h0M157.6 325.3h0M157.9 324.9h0M159.4 325.8h0M160.1 325.7h0M161.0 324.9h0M161.7 325.7h0M162.8 324.8h0M163.7 325.6h0M164.6 325.8h0M164.8 324.9h0M165.2 325.5h0M164.9 325.4h0M165.1 324.7h0M165.9 325.6h0M165.8 326.0h0M165.6 325.1h0M165.8 325.1h0M166.1 325.6h0M166.1 325.7h0M166.8 324.7h0M167.6 325.3h0M168.5 324.3h0M169.1 324.9h0M169.2 325.8h0M169.1 324.8h0M169.7 324.8h0M169.7 325.8h0M170.4 325.7h0M171.3 325.8h0M171.0 325.3h0M171.8 324.7h0M173.7 325.8h0M174.4 324.7h0M175.1 325.0h0M175.6 324.5h0M176.1 324.9h0M176.1 325.5h0M176.6 325.8h0M177.5 324.5h0M177.4 325.1h0M177.7 325.4h0M178.0 325.0h0M179.0 324.9h0M178.8 324.4h0M179.2 324.4h0M179.9 325.2h0M180.7 325.3h0M180.5 324.6h0M182.1 324.5h0M183.1 324.8h0M183.9 326.0h0"/>
<path stroke="#e4d2cc" stroke-opacity="0.75" stroke-width="2.0" d="M50.1 304.8h0M70.3 305.1h0M75.8 305.7h0M90.7 305.1h0M100.5 304.4h0M107.5 305.5h0M113.5 304.5h0M144.4 304.8h0M164.0 304.3h0M170.2 305.5h0M173.4 305.3h0"/>
<path stroke="#ead2c6" stroke-opacity="0.75" stroke-width="2.0" d="M53.3 302.3h0M53.9 303.2h0M67.1 302.4h0M84.0 302.8h0M90.9 303.4h0M107.2 303.4h0M110.9 303.2h0M133.5 303.0h0M163.7 303.2h0M176.5 303.3h0"/>
<path stroke="#baccf6" stroke-opacity="0.75" stroke-width="2.0" d="M48.3 326.5h0M49.8 326.6h0M49.9 326.1h0M50.0 326.0h0M51.9 326.5h0M53.2 326.0h0M53.9 326.2h0M53.9 326.1h0M54.8 326.1h0M56.5 326.4h0M57.3 326.2h0M57.1 326.3h0M57.1 326.3h0M60.6 326.5h0M63.4 326.4h0M65.2 326.1h0M68.3 326.5h0M70.3 326.6h0M75.6 326.0h0M76.4 326.3h0M76.6 326.4h0M77.8 326.4h0M77.9 326.4h0M77.5 326.0h0M78.6 326.4h0M78.4 326.6h0M79.0 326.5h0M79.0 326.4h0M79.1 326.2h0M79.2 326.6h0M79.7 326.0h0M82.5 326.5h0M84.6 326.3h0M86.1 326.1h0M86.5 326.2h0M87.1 326.6h0M87.6 326.1h0M87.9 326.1h0M88.0 326.1h0M88.3 326.5h0M91.5 326.1h0M95.1 326.5h0M96.1 326.6h0M96.3 326.3h0M99.6 326.5h0M100.7 326.6h0M102.5 326.4h0M104.3 326.5h0M106.6 326.0h0M108.6 326.5h0M110.1 326.5h0M111.1 326.3h0M114.0 326.5h0M114.2 326.1h0M114.6 326.6h0M118.5 326.6h0M119.7 326.4h0M122.1 326.6h0M122.1 326.5h0M123.6 326.1h0M124.3 326.3h0M126.4 326.1h0M127.4 326.1h0M133.8 326.2h0M135.6 326.0h0M137.0 326.5h0M138.4 326.1h0M138.8 326.2h0M139.6 326.0h0M140.5 326.0h0M141.0 326.4h0M140.8 326.5h0M141.7 326.2h0M142.8 326.5h0M143.0 326.0h0M145.0 326.0h0M145.0 326.6h0M156.0 326.3h0M158.2 326.1h0M158.0 326.3h0M158.9 326.2h0M160.6 326.1h0M161.8 326.5h0M163.1 326.5h0M163.1 326.6h0M163.3 326.5h0M164.1 326.6h0M167.1 326.3h0M167.6 326.3h0M170.5 326.5h0M171.2 326.3h0M172.1 326.6h0M173.1 326.3h0M173.1 326.6h0M174.0 326.5h0M174.4 326.2h0M174.6 326.1h0M175.2 326.6h0M175.1 326.5h0M178.2 326.1h0M178.2 326.3h0M184.0 326.2h0"/>
<path stroke="#bad2f0" stroke-opacity="0.75" stroke-width="2.0" d="M48.2 324.2h0M51.0 324.2h0M51.6 324.1h0M52.2 324.1h0M53.9 324.1h0M56.9 324.1h0M59.0 324.2h0M59.6 324.2h0M61.0 324.1h0M70.1 324.2h0M79.2 324.2h0M82.7 324.2h0M83.8 324.2h0M90.1 324.1h0M92.6 324.2h0M107.6 324.2h0M108.2 324.1h0M120.2 324.2h0M125.3 324.2h0M125.9 324.2h0M127.0 324.3h0M136.7 324.2h0M139.5 324.2h0M142.8 324.2h0M149.0 324.2h0M162.9 324.1h0M163.4 324.2h0M174.3 324.2h0M177.8 324.2h0M181.3 324.1h0M184.1 324.1h0"/>
<path stroke="#e4d2c6" stroke-opacity="0.75" stroke-width="2.0" d="M63.1 304.1h0M79.8 304.1h0M83.1 303.9h0M104.5 303.6h0M104.5 303.7h0M116.6 304.1h0M121.5 303.8h0M124.3 304.1h0M129.1 304.2h0M138.8 304.1h0M163.2 304.2h0M183.0 303.7h0"/>
<path stroke="#ead2c0" stroke-opacity="0.75" stroke-width="2.0" d="M136.6 301.2h0M161.4 301.7h0M177.4 301.4h0M181.3 301.8h0"/>
<path stroke="#b4ccf6" stroke-opacity="0.75" stroke-width="2.0" d="M46.7 328.3h0M46.8 329.1h0M47.4 328.3h0M48.0 327.5h0M48.9 328.7h0M50.2 328.7h0M50.9 328.1h0M51.0 327.0h0M50.6 328.4h0M52.4 326.7h0M52.1 326.9h0M52.3 327.2h0M52.9 327.5h0M52.9 327.8h0M53.3 328.5h0M53.9 328.2h0M53.6 328.5h0M54.6 327.3h0M54.1 327.9h0M54.9 327.0h0M55.0 328.8h0M54.9 327.4h0M56.7 328.7h0M57.3 327.4h0M57.9 327.3h0M57.5 327.0h0M58.0 328.9h0M58.7 328.9h0M58.3 329.0h0M58.7 327.5h0M58.3 326.8h0M59.4 327.0h0M59.4 328.9h0M59.4 327.0h0M59.7 328.4h0M60.0 326.8h0M60.7 328.7h0M60.8 327.6h0M61.3 328.9h0M62.1 329.0h0M61.9 327.7h0M62.1 328.9h0M62.1 327.2h0M63.5 327.4h0M63.5 328.7h0M63.9 326.7h0M63.7 329.1h0M63.9 327.8h0M64.8 326.8h0M65.5 327.2h0M65.1 328.9h0M65.9 327.1h0M66.0 328.8h0M66.4 327.4h0M66.8 328.2h0M67.4 328.7h0M67.2 327.3h0M67.2 327.2h0M67.4 326.6h0M68.8 327.7h0M69.7 326.7h0M69.7 327.4h0M70.3 328.9h0M70.3 328.8h0M71.0 327.1h0M71.7 327.8h0M71.5 326.6h0M72.4 328.5h0M72.1 327.4h0M72.1 329.1h0M72.0 327.7h0M73.1 328.5h0M73.7 328.0h0M73.4 327.1h0M73.5 327.9h0M74.6 327.6h0M74.1 326.7h0M74.5 326.8h0M75.0 326.7h0M75.0 328.2h0M74.9 327.1h0M74.8 328.6h0M76.8 328.0h0M77.0 326.9h0M77.5 327.4h0M77.8 328.2h0M77.6 327.8h0M78.2 328.4h0M78.6 327.9h0M78.7 329.0h0M79.1 328.4h0M79.7 329.0h0M80.4 327.3h0M80.7 328.1h0M81.4 327.9h0M81.2 327.8h0M82.0 328.2h0M82.2 328.7h0M83.4 327.0h0M83.9 327.6h0M83.7 328.1h0M83.6 329.1h0M84.9 327.4h0M84.8 329.1h0M85.3 327.0h0M85.2 328.4h0M85.1 327.8h0M85.2 328.8h0M85.0 327.5h0M85.5 326.7h0M85.8 326.8h0M86.2 328.7h0M86.5 326.7h0M86.6 326.8h0M86.6 328.5h0M87.2 327.1h0M88.3 328.4h0M87.8 327.6h0M88.0 328.1h0M88.7 326.7h0M89.2 328.4h0M89.5 328.0h0M89.5 327.2h0M89.7 326.9h0M91.1 327.6h0M91.4 328.6h0M91.3 329.0h0M92.1 328.0h0M92.0 328.4h0M93.1 328.7h0M92.9 329.0h0M92.8 329.0h0M93.2 328.5h0M94.2 329.0h0M94.4 328.9h0M94.9 328.1h0M94.7 327.2h0M95.9 327.5h0M95.5 327.9h0M96.8 328.5h0M96.7 328.1h0M97.5 328.8h0M98.2 327.6h0M98.5 327.1h0M99.9 327.0h0M99.4 326.9h0M100.6 328.6h0M100.3 326.6h0M101.3 327.1h0M102.0 328.9h0M102.0 326.8h0M102.1 326.7h0M102.0 327.4h0M102.6 328.3h0M102.4 327.4h0M102.2 329.0h0M102.2 328.1h0M102.6 328.5h0M103.0 327.4h0M103.2 326.7h0M103.7 326.7h0M104.1 327.2h0M103.9 327.5h0M104.7 326.7h0M104.8 328.5h0M104.8 328.7h0M104.5 328.7h0M105.7 328.0h0M106.3 326.8h0M106.4 327.0h0M107.0 329.1h0M107.0 327.9h0M108.1 329.0h0M108.0 327.8h0M108.2 328.0h0M107.9 326.9h0M107.6 328.0h0M108.9 326.8h0M109.2 327.5h0M109.2 327.8h0M109.9 327.6h0M110.7 328.5h0M110.7 328.1h0M110.6 326.7h0M110.8 326.8h0M110.7 327.1h0M112.0 327.5h0M112.3 326.9h0M112.9 327.7h0M112.7 328.1h0M113.2 329.0h0M113.4 328.2h0M113.5 328.1h0M113.9 326.6h0M114.8 328.9h0M114.5 328.9h0M114.6 328.6h0M115.7 328.8h0M116.2 329.0h0M116.3 328.1h0M116.9 327.9h0M117.1 328.3h0M116.6 327.1h0M116.6 327.9h0M117.3 328.7h0M117.3 327.5h0M118.1 327.1h0M118.1 328.0h0M118.5 327.6h0M119.1 326.7h0M119.7 327.2h0M119.5 326.6h0M119.9 328.1h0M120.2 328.4h0M120.4 327.3h0M121.3 327.2h0M121.5 327.7h0M121.4 327.2h0M121.8 328.6h0M121.9 327.3h0M122.5 328.1h0M122.9 327.3h0M123.1 327.8h0M123.2 328.0h0M123.1 328.2h0M123.0 327.7h0M124.1 328.8h0M125.2 326.7h0M124.8 328.1h0M125.3 326.7h0M126.1 327.1h0M125.6 326.7h0M125.9 327.2h0M126.5 326.9h0M126.7 326.7h0M126.5 328.9h0M128.0 328.0h0M128.0 327.1h0M128.5 328.4h0M129.2 326.9h0M129.1 326.7h0M129.8 328.1h0M130.4 329.1h0M130.4 326.9h0M131.6 329.1h0M131.2 327.0h0M132.7 326.9h0M132.8 327.2h0M132.8 327.4h0M133.2 326.9h0M133.6 327.2h0M134.1 326.7h0M133.9 327.3h0M133.8 327.9h0M134.0 326.6h0M134.6 326.9h0M134.6 326.6h0M134.5 328.9h0M136.4 327.2h0M135.9 328.8h0M136.1 327.1h0M136.9 327.0h0M137.7 327.8h0M138.4 327.6h0M138.1 327.7h0M138.0 326.9h0M138.0 328.3h0M138.4 328.3h0M139.1 327.8h0M138.6 328.7h0M138.7 326.6h0M139.5 328.9h0M139.3 329.1h0M140.5 327.1h0M140.1 326.9h0M140.0 327.8h0M140.3 328.3h0M140.7 328.9h0M140.9 327.9h0M141.2 327.0h0M141.4 328.8h0M142.1 328.2h0M142.5 326.9h0M142.8 327.9h0M142.7 328.9h0M143.0 329.0h0M143.2 328.3h0M143.2 326.9h0M143.4 326.9h0M143.9 328.3h0M143.5 327.5h0M143.9 328.3h0M143.6 327.3h0M144.5 328.9h0M144.2 328.0h0M144.3 328.3h0M145.1 328.0h0M145.7 327.2h0M145.5 327.2h0M146.0 327.6h0M145.6 328.2h0M145.6 329.1h0M146.6 327.7h0M146.1 327.1h0M146.4 328.7h0M147.3 327.7h0M147.2 329.1h0M148.0 327.8h0M148.1 328.6h0M147.7 328.8h0M148.8 328.6h0M148.7 326.9h0M148.7 328.4h0M148.4 327.7h0M148.3 327.4h0M149.1 329.0h0M149.2 327.4h0M149.3 327.4h0M149.2 326.8h0M149.7 327.3h0M149.7 327.8h0M150.5 326.9h0M151.3 328.3h0M151.6 328.2h0M151.9 327.2h0M152.0 328.3h0M151.8 327.8h0M152.3 327.1h0M152.8 328.4h0M152.8 328.6h0M152.6 327.3h0M153.2 326.8h0M153.1 328.7h0M153.0 327.7h0M153.8 327.3h0M154.9 327.1h0M154.8 327.0h0M154.8 327.4h0M154.9 328.1h0M155.1 328.0h0M155.2 328.0h0M156.2 327.4h0M155.8 327.4h0M156.2 327.1h0M156.9 328.8h0M157.0 327.3h0M157.2 326.7h0M157.4 328.7h0M157.2 327.7h0M157.4 327.9h0M158.6 328.2h0M158.9 327.7h0M159.0 326.9h0M159.7 329.0h0M159.7 327.1h0M160.0 327.2h0M160.2 328.1h0M160.3 328.8h0M161.0 327.0h0M161.0 328.2h0M160.8 328.7h0M161.8 327.5h0M161.2 328.1h0M161.6 327.6h0M162.2 327.8h0M162.9 326.7h0M163.0 327.3h0M163.3 328.1h0M164.1 327.7h0M164.9 327.7h0M165.0 327.7h0M166.4 328.5h0M166.3 327.0h0M167.6 327.4h0M167.9 327.7h0M167.9 327.0h0M168.6 327.3h0M168.4 328.8h0M169.2 326.7h0M169.0 328.0h0M169.1 327.9h0M169.1 328.7h0M169.2 327.7h0M169.3 328.0h0M169.8 326.9h0M169.9 327.8h0M169.9 328.6h0M169.8 327.5h0M169.6 329.1h0M170.2 328.7h0M171.2 329.1h0M171.0 327.4h0M171.6 328.8h0M172.5 327.5h0M172.6 327.2h0M173.7 327.9h0M173.7 328.3h0M174.3 326.8h0M175.2 327.7h0M175.1 327.0h0M175.9 327.0h0M176.5 327.2h0M176.9 326.8h0M176.9 328.6h0M176.9 327.2h0M177.0 328.3h0M177.1 328.0h0M177.9 328.9h0M178.5 327.5h0M179.4 327.9h0M179.5 327.3h0M179.2 327.6h0M179.6 329.1h0M179.5 327.4h0M180.2 327.2h0M180.6 329.0h0M181.5 328.1h0M181.7 328.7h0M182.1 326.6h0M182.8 326.7h0M182.5 326.8h0M182.8 327.8h0M183.5 328.2h0M183.6 328.4h0M184.2 326.7h0"/>
<path stroke="#f0ccba" stroke-opacity="0.75" stroke-width="2.0" d="M64.8 298.1h0M67.2 299.0h0M71.6 298.5h0M90.3 298.0h0M127.4 298.8h0M137.7 298.7h0M144.2 298.2h0M158.8 298.6h0M167.5 299.0h0M180.8 298.0h0"/>
<path stroke="#eaccc0" stroke-opacity="0.75" stroke-width="2.0" d="M83.4 300.6h0M114.1 300.9h0M131.2 300.4h0M134.5 301.0h0M140.9 300.1h0M178.9 300.9h0"/>
<path stroke="#aeccfc" stroke-opacity="0.75" stroke-width="2.0" d="M83.8 329.9h0M85.8 329.9h0M91.0 329.9h0M93.6 329.9h0M95.9 329.9h0M110.4 329.9h0M116.9 329.9h0M119.5 329.9h0M133.5 329.9h0M139.8 329.9h0M150.2 329.9h0M168.6 329.9h0M173.7 329.9h0M178.1 329.9h0M183.3 329.9h0"/>
<path stroke="#aec6fc" stroke-opacity="0.75" stroke-width="2.0" d="M46.6 331.1h0M47.4 330.5h0M47.3 331.1h0M48.0 330.3h0M48.7 330.7h0M49.7 331.1h0M50.5 330.3h0M50.1 330.4h0M50.5 330.2h0M50.9 330.8h0M50.9 331.5h0M51.4 331.4h0M52.9 330.0h0M53.1 330.0h0M53.6 330.2h0M55.0 330.8h0M56.0 330.4h0M55.6 330.4h0M55.6 331.5h0M57.0 330.3h0M57.1 330.9h0M58.1 330.5h0M58.0 331.2h0M58.5 330.0h0M59.3 331.5h0M59.4 330.4h0M60.0 330.5h0M61.5 330.3h0M62.0 330.9h0M62.5 330.1h0M62.4 330.9h0M62.3 331.5h0M63.5 331.6h0M63.1 331.2h0M63.5 330.2h0M63.9 330.2h0M64.6 331.3h0M64.6 331.3h0M65.1 331.0h0M66.7 330.4h0M67.4 330.1h0M68.2 330.7h0M68.9 331.3h0M69.5 330.0h0M69.6 330.1h0M70.3 330.2h0M69.9 330.3h0M71.0 330.4h0M71.8 330.9h0M71.4 331.2h0M72.0 330.2h0M72.0 331.2h0M73.7 331.2h0M73.8 330.1h0M74.4 331.3h0M74.4 330.7h0M75.7 331.2h0M76.3 331.5h0M77.0 330.2h0M78.7 330.7h0M79.2 330.7h0M79.5 330.8h0M81.4 330.2h0M81.4 330.1h0M81.9 330.0h0M82.6 330.6h0M83.4 331.3h0M83.2 330.0h0M84.2 330.7h0M84.1 331.6h0M84.4 331.3h0M85.2 330.5h0M85.5 330.3h0M86.1 331.4h0M86.9 331.6h0M86.5 331.3h0M86.5 330.1h0M86.6 330.1h0M87.3 330.9h0M87.4 331.5h0M87.6 330.2h0M88.0 331.2h0M88.9 330.8h0M89.1 330.9h0M89.9 330.2h0M90.1 331.5h0M90.7 331.5h0M90.6 331.0h0M90.8 330.5h0M91.4 330.8h0M91.6 331.2h0M92.0 330.0h0M93.6 331.5h0M94.2 330.6h0M93.9 330.1h0M94.0 330.2h0M95.1 331.0h0M94.9 331.1h0M95.7 331.0h0M96.5 331.5h0M96.6 331.3h0M97.8 331.0h0M98.3 331.3h0M98.0 331.1h0M99.0 331.6h0M99.1 331.6h0M99.6 330.8h0M103.3 330.2h0M103.3 330.2h0M104.4 330.8h0M104.3 331.1h0M105.1 331.1h0M105.9 331.0h0M106.2 331.4h0M107.5 330.1h0M107.4 330.1h0M107.3 330.3h0M108.6 330.3h0M108.9 331.0h0M109.5 331.1h0M110.1 330.1h0M110.4 330.7h0M111.2 331.1h0M111.2 330.7h0M111.1 330.8h0M113.5 331.0h0M113.2 331.0h0M114.2 330.5h0M114.3 331.4h0M114.4 331.4h0M115.0 330.3h0M115.7 330.5h0M115.7 330.9h0M116.0 331.3h0M116.9 331.0h0M117.8 330.4h0M118.7 330.6h0M119.3 331.5h0M119.4 331.2h0M120.2 330.2h0M120.3 330.3h0M120.7 331.3h0M121.4 330.9h0M121.8 331.0h0M122.3 330.4h0M123.0 330.3h0M123.8 330.5h0M123.5 330.1h0M123.8 330.2h0M124.5 330.3h0M124.4 330.2h0M124.3 330.9h0M126.0 330.8h0M125.9 331.6h0M125.7 331.4h0M125.7 330.4h0M126.1 330.9h0M126.7 330.9h0M126.8 330.4h0M127.0 330.7h0M128.2 331.3h0M128.3 331.3h0M128.5 330.6h0M128.5 330.6h0M129.5 331.3h0M130.0 331.6h0M130.0 330.6h0M130.1 330.7h0M130.6 330.3h0M130.9 331.2h0M130.8 331.3h0M132.1 331.3h0M132.6 330.3h0M133.1 330.3h0M133.9 330.6h0M134.6 330.5h0M134.7 331.4h0M135.2 330.1h0M137.1 331.5h0M136.8 331.3h0M136.5 330.6h0M137.7 331.6h0M138.6 331.3h0M139.0 330.5h0M138.7 330.9h0M140.1 330.4h0M140.7 331.1h0M142.3 331.1h0M142.9 331.4h0M143.8 330.6h0M143.8 330.6h0M143.6 330.1h0M144.2 330.5h0M145.5 331.2h0M147.6 330.4h0M147.8 330.9h0M150.8 330.2h0M150.7 331.2h0M151.8 331.6h0M153.6 331.3h0M153.4 330.7h0M153.8 330.9h0M155.3 331.5h0M155.8 330.2h0M155.9 330.1h0M156.8 330.7h0M157.3 331.3h0M157.2 331.0h0M158.0 330.0h0M158.2 331.1h0M158.8 331.1h0M158.7 331.2h0M158.6 330.9h0M158.6 330.4h0M160.1 331.6h0M160.1 330.4h0M160.1 330.0h0M160.8 331.4h0M160.7 331.3h0M160.6 330.9h0M161.0 330.7h0M160.9 331.1h0M161.6 330.8h0M162.3 330.6h0M164.5 330.0h0M164.3 330.1h0M164.2 330.0h0M164.9 331.6h0M165.0 330.9h0M165.2 331.6h0M165.9 331.1h0M166.4 330.7h0M166.5 331.6h0M166.4 331.5h0M167.2 330.1h0M167.7 330.2h0M168.1 330.4h0M169.1 330.5h0M168.8 330.1h0M170.6 330.3h0M170.9 331.2h0M171.6 331.0h0M172.1 330.1h0M172.5 330.4h0M172.3 330.6h0M172.7 331.5h0M173.1 331.4h0M174.8 331.0h0M174.8 331.0h0M174.3 330.7h0M175.3 331.4h0M177.4 331.1h0M177.9 331.6h0M178.5 330.4h0M178.8 331.5h0M178.9 330.5h0M178.8 331.0h0M178.8 331.6h0M180.8 330.6h0M180.8 331.0h0M181.2 330.3h0M182.3 331.1h0M182.2 331.4h0M182.1 331.2h0M183.4 330.3h0M183.8 331.4h0M183.6 331.2h0M183.7 330.6h0M183.9 330.8h0M184.3 330.9h0"/>
<path stroke="#aeccf6" stroke-opacity="0.75" stroke-width="2.0" d="M47.1 329.4h0M47.0 329.7h0M48.9 329.5h0M49.5 329.4h0M50.0 329.4h0M51.8 329.5h0M51.9 329.4h0M52.3 329.2h0M54.3 329.6h0M54.1 329.6h0M58.7 329.8h0M58.9 329.2h0M60.0 329.6h0M60.4 329.6h0M60.4 329.4h0M61.5 329.4h0M61.8 329.5h0M64.5 329.5h0M65.2 329.5h0M70.1 329.6h0M70.0 329.4h0M70.9 329.5h0M73.0 329.7h0M73.3 329.8h0M76.2 329.7h0M76.9 329.6h0M78.3 329.8h0M78.8 329.3h0M80.5 329.4h0M82.4 329.8h0M82.8 329.5h0M84.1 329.2h0M84.6 329.7h0M85.0 329.6h0M85.9 329.4h0M88.3 329.8h0M88.8 329.6h0M89.1 329.5h0M92.7 329.6h0M93.4 329.7h0M93.5 329.2h0M93.6 329.5h0M94.3 329.6h0M94.1 329.8h0M95.0 329.6h0M95.6 329.8h0M95.6 329.7h0M96.2 329.4h0M97.4 329.6h0M102.6 329.7h0M103.6 329.4h0M103.6 329.4h0M104.5 329.1h0M106.8 329.4h0M107.4 329.7h0M108.5 329.8h0M108.6 329.3h0M109.4 329.4h0M110.7 329.8h0M113.2 329.4h0M114.2 329.4h0M115.1 329.6h0M114.8 329.2h0M115.9 329.2h0M115.9 329.6h0M116.2 329.4h0M116.9 329.4h0M117.9 329.5h0M118.1 329.7h0M120.4 329.8h0M120.1 329.6h0M123.7 329.5h0M125.2 329.3h0M127.1 329.6h0M127.4 329.6h0M128.8 329.9h0M128.8 329.5h0M130.3 329.2h0M135.3 329.7h0M136.2 329.2h0M137.4 329.7h0M137.5 329.1h0M140.1 329.2h0M141.0 329.3h0M144.6 329.8h0M144.4 329.5h0M144.8 329.2h0M144.8 329.6h0M146.6 329.2h0M146.7 329.6h0M147.1 329.8h0M147.5 329.5h0M149.8 329.1h0M149.8 329.8h0M151.0 329.4h0M151.3 329.8h0M154.1 329.2h0M153.9 329.8h0M155.3 329.6h0M158.4 329.8h0M159.4 329.7h0M159.3 329.8h0M160.8 329.3h0M160.9 329.5h0M161.8 329.6h0M164.1 329.4h0M165.2 329.6h0M168.9 329.7h0M169.8 329.7h0M171.9 329.7h0M171.7 329.2h0M171.6 329.2h0M172.7 329.3h0M172.9 329.7h0M173.6 329.6h0M176.7 329.2h0M178.2 329.2h0M179.2 329.6h0M179.8 329.4h0M179.9 329.4h0M181.0 329.7h0M180.6 329.6h0M181.5 329.8h0M181.9 329.5h0M182.7 329.7h0"/>
<path stroke="#eaccba" stroke-opacity="0.75" stroke-width="2.0" d="M53.6 300.0h0M70.3 299.6h0M72.1 299.7h0M81.3 299.5h0M84.6 299.0h0M91.7 299.5h0M92.0 299.6h0M129.2 299.7h0M129.7 299.5h0M130.6 299.6h0M133.2 299.2h0M143.7 299.7h0M182.9 299.3h0"/>
<path stroke="#f0ccb4" stroke-opacity="0.75" stroke-width="2.0" d="M160.7 297.7h0"/>
<path stroke="#a8c6fc" stroke-opacity="0.75" stroke-width="2.0" d="M47.1 332.8h0M46.6 333.0h0M46.9 331.7h0M47.7 332.5h0M48.6 332.2h0M48.7 332.9h0M50.1 333.4h0M50.3 332.6h0M50.9 332.4h0M51.8 333.5h0M51.6 332.7h0M51.8 333.1h0M53.0 332.5h0M52.8 332.3h0M53.0 332.7h0M53.7 333.3h0M53.9 333.4h0M54.4 332.8h0M54.6 332.9h0M54.4 332.4h0M54.8 332.2h0M55.6 332.1h0M56.0 331.8h0M56.7 333.3h0M56.3 332.2h0M57.0 332.6h0M57.6 332.9h0M57.8 331.7h0M59.4 333.3h0M59.6 332.3h0M60.8 333.1h0M60.4 333.5h0M60.6 333.3h0M61.2 333.1h0M61.2 332.7h0M61.9 333.0h0M62.1 332.1h0M62.7 332.7h0M62.6 332.2h0M63.4 332.4h0M64.8 333.5h0M64.7 331.9h0M66.0 332.4h0M66.9 333.3h0M66.6 333.0h0M66.7 331.7h0M67.0 331.7h0M68.6 333.5h0M70.3 332.4h0M70.0 331.7h0M71.6 332.2h0M71.4 331.9h0M72.4 331.7h0M72.9 332.7h0M72.9 333.2h0M72.9 333.5h0M73.0 333.4h0M72.8 333.2h0M73.4 333.3h0M74.5 331.7h0M74.2 332.5h0M74.9 333.3h0M74.7 333.4h0M76.5 331.8h0M77.1 332.6h0M76.9 332.9h0M80.0 332.0h0M80.3 332.4h0M81.9 332.5h0M81.6 331.7h0M83.0 333.6h0M84.8 333.0h0M85.7 332.3h0M86.6 333.1h0M87.1 332.2h0M87.2 332.2h0M88.7 333.0h0M88.6 332.5h0M88.9 332.1h0M89.3 332.6h0M89.5 332.5h0M89.8 333.0h0M90.3 331.8h0M91.0 331.7h0M90.7 332.1h0M91.7 332.4h0M91.9 333.4h0M93.5 332.6h0M93.3 332.0h0M94.1 332.0h0M94.1 333.0h0M94.9 332.6h0M95.8 332.2h0M95.3 333.0h0M96.0 333.1h0M97.2 333.0h0M97.2 331.8h0M98.6 332.5h0M98.4 332.5h0M98.1 332.6h0M99.3 332.6h0M99.1 333.0h0M99.1 332.2h0M99.6 332.5h0M100.2 332.9h0M101.6 332.1h0M101.8 332.5h0M102.0 332.8h0M102.0 333.1h0M102.7 332.4h0M102.3 332.4h0M102.2 332.1h0M103.2 332.1h0M103.0 331.7h0M104.0 332.4h0M104.0 332.6h0M104.5 331.9h0M105.3 332.4h0M105.3 332.3h0M106.1 333.4h0M105.6 331.9h0M107.3 332.2h0M108.1 332.6h0M107.9 333.1h0M107.8 332.2h0M108.9 333.0h0M108.4 332.3h0M108.6 333.5h0M108.4 332.2h0M110.1 331.9h0M110.2 332.0h0M110.4 332.0h0M111.5 332.1h0M111.5 332.1h0M111.4 333.0h0M113.0 332.5h0M113.0 332.3h0M113.5 332.4h0M115.1 331.9h0M116.2 333.4h0M117.4 332.0h0M117.7 332.7h0M117.8 333.5h0M118.4 332.6h0M118.0 332.0h0M119.0 333.2h0M118.9 332.9h0M120.7 333.4h0M120.8 331.9h0M121.6 333.1h0M121.5 332.3h0M122.6 332.3h0M122.3 332.0h0M123.0 331.8h0M122.9 333.1h0M123.5 332.2h0M124.4 333.0h0M125.9 332.3h0M125.5 332.4h0M126.0 332.7h0M127.0 332.8h0M128.8 332.6h0M128.8 333.1h0M129.8 332.4h0M130.7 333.3h0M130.9 333.5h0M131.0 333.1h0M132.1 332.6h0M132.1 332.4h0M132.3 333.2h0M132.0 331.9h0M132.5 333.1h0M132.9 332.6h0M134.8 332.3h0M135.3 332.2h0M135.6 333.3h0M136.1 333.4h0M137.0 332.9h0M136.8 333.2h0M137.4 332.4h0M137.8 333.0h0M138.5 331.8h0M138.8 333.3h0M138.9 332.4h0M139.5 331.9h0M139.7 332.3h0M140.0 332.9h0M140.3 331.7h0M140.9 332.4h0M140.6 332.9h0M141.4 332.0h0M141.5 332.1h0M141.8 331.8h0M142.0 333.5h0M142.1 333.2h0M142.1 333.0h0M144.1 333.1h0M145.8 332.7h0M145.6 333.3h0M146.7 331.8h0M146.2 332.4h0M147.0 332.2h0M147.2 332.2h0M148.0 333.5h0M149.2 331.7h0M149.2 333.3h0M150.1 331.8h0M151.4 332.7h0M151.0 332.4h0M151.4 332.3h0M152.6 331.9h0M153.3 333.3h0M154.6 332.6h0M155.3 333.4h0M155.3 332.2h0M155.4 332.8h0M155.8 331.8h0M158.1 331.7h0M159.0 331.7h0M158.9 333.5h0M159.2 332.0h0M159.3 333.3h0M159.2 331.7h0M159.2 332.7h0M160.3 333.4h0M160.2 333.1h0M160.3 332.6h0M160.1 333.5h0M161.0 332.7h0M161.5 332.5h0M161.7 331.7h0M161.5 331.9h0M161.5 332.8h0M162.0 332.5h0M162.4 333.3h0M163.0 332.3h0M162.6 332.4h0M163.7 332.7h0M163.8 332.3h0M164.4 332.9h0M166.4 332.4h0M166.5 331.7h0M166.1 332.0h0M166.5 333.3h0M167.1 333.5h0M167.3 333.5h0M166.9 331.8h0M168.1 331.8h0M169.1 332.0h0M169.7 332.2h0M170.6 333.1h0M170.4 332.5h0M171.4 332.2h0M171.2 332.1h0M171.6 332.5h0M171.8 333.5h0M172.3 332.8h0M173.8 333.0h0M174.3 333.4h0M175.1 333.0h0M175.7 333.3h0M176.3 332.8h0M176.2 332.4h0M176.0 332.1h0M176.0 332.2h0M176.6 332.3h0M177.2 332.5h0M177.9 333.2h0M178.8 333.1h0M178.5 333.0h0M179.2 332.4h0M180.0 333.4h0M180.5 332.2h0M180.6 331.9h0M180.5 332.2h0M180.8 333.1h0M181.4 332.5h0M181.3 333.3h0M182.4 331.7h0M183.1 332.1h0M184.2 332.4h0"/>
<path stroke="#f0c6b4" stroke-opacity="0.75" stroke-width="2.0" d="M61.3 297.4h0M87.1 296.7h0M88.0 296.4h0M89.2 296.2h0M97.2 296.5h0M100.3 295.9h0M122.5 297.3h0"/>
<path stroke="#f0c6ae" stroke-opacity="0.75" stroke-width="2.0" d="M47.7 295.7h0M55.6 295.7h0M57.3 294.4h0M59.7 295.5h0M70.9 294.7h0M101.6 294.7h0M127.7 295.5h0M130.1 294.5h0M137.5 295.6h0M139.3 295.5h0M174.5 295.5h0"/>
<path stroke="#a8c0fc" stroke-opacity="0.75" stroke-width="2.0" d="M55.9 333.7h0M59.1 333.9h0M67.2 333.7h0M74.1 333.6h0M77.2 333.9h0M80.7 333.9h0M81.4 333.7h0M83.3 333.7h0M87.5 333.6h0M88.1 333.7h0M91.0 333.9h0M90.7 333.9h0M97.4 333.7h0M102.5 333.6h0M103.2 333.7h0M107.2 333.8h0M108.5 333.9h0M114.9 333.6h0M120.5 333.8h0M131.5 333.8h0M132.8 333.6h0M133.8 333.6h0M133.8 333.9h0M134.8 333.9h0M135.6 333.9h0M137.8 333.6h0M141.0 333.8h0M142.1 333.9h0M142.1 333.8h0M146.6 333.8h0M148.3 333.8h0M153.4 333.9h0M165.7 333.6h0M167.1 333.9h0M168.4 333.6h0M173.7 333.6h0M174.7 333.8h0M177.5 333.6h0M178.6 333.9h0M181.2 333.6h0"/>
<path stroke="#a2c0fc" stroke-opacity="0.75" stroke-width="2.0" d="M47.3 335.8h0M47.7 334.2h0M47.7 335.4h0M47.6 334.8h0M48.4 335.4h0M48.2 334.1h0M48.3 335.6h0M48.3 334.7h0M48.9 335.9h0M50.5 334.8h0M50.3 334.7h0M50.7 335.4h0M51.1 334.0h0M51.1 335.5h0M51.5 334.4h0M51.5 334.7h0M52.2 333.9h0M52.4 334.6h0M52.2 335.4h0M53.0 334.8h0M53.7 335.6h0M55.3 334.4h0M56.7 334.3h0M57.3 334.5h0M57.1 334.1h0M58.5 335.0h0M58.5 336.1h0M58.7 334.9h0M58.7 335.9h0M59.1 335.2h0M60.6 334.8h0M61.4 334.8h0M61.0 335.3h0M62.7 334.3h0M62.5 334.8h0M63.3 334.7h0M64.2 334.7h0M64.5 334.7h0M65.3 335.5h0M65.3 334.8h0M65.1 335.1h0M65.9 335.1h0M65.8 336.1h0M66.0 335.9h0M67.5 335.7h0M67.4 336.2h0M67.9 335.2h0M69.9 334.0h0M71.7 336.0h0M72.2 336.0h0M72.2 334.3h0M73.0 336.1h0M73.0 334.9h0M73.1 334.6h0M74.0 334.6h0M74.3 334.2h0M74.9 336.1h0M74.7 334.7h0M75.2 334.8h0M75.9 334.1h0M75.7 335.5h0M75.8 335.3h0M76.1 334.5h0M76.8 336.2h0M78.1 336.2h0M78.9 334.0h0M80.7 335.3h0M81.2 335.7h0M81.3 335.2h0M81.7 334.9h0M82.5 334.8h0M83.4 335.9h0M85.1 334.3h0M86.6 334.5h0M86.6 334.5h0M87.1 334.1h0M88.2 336.2h0M89.5 335.7h0M89.9 335.2h0M89.9 335.9h0M91.4 334.5h0M92.1 336.1h0M92.6 335.0h0M93.6 335.6h0M93.4 335.4h0M93.5 336.0h0M94.0 335.1h0M93.9 336.1h0M95.3 336.0h0M95.8 335.1h0M96.0 335.3h0M96.7 334.1h0M97.6 335.4h0M99.8 336.1h0M100.7 336.0h0M100.9 334.5h0M101.2 335.0h0M101.3 335.7h0M101.6 334.2h0M102.4 335.4h0M103.4 335.7h0M103.6 334.2h0M104.0 334.9h0M105.7 334.4h0M106.5 334.5h0M108.4 335.7h0M108.8 334.4h0M109.5 334.6h0M109.8 335.5h0M112.2 335.1h0M112.0 335.5h0M112.3 335.4h0M112.8 334.2h0M112.9 334.4h0M112.8 334.9h0M113.5 334.2h0M113.2 335.5h0M114.5 335.4h0M115.4 334.3h0M116.4 334.2h0M117.5 334.5h0M120.4 335.0h0M120.1 335.8h0M120.2 335.2h0M121.4 334.7h0M121.4 334.4h0M122.5 335.4h0M123.0 334.7h0M123.9 336.1h0M123.9 334.0h0M124.6 334.6h0M124.2 336.1h0M125.1 335.4h0M126.6 335.1h0M128.1 335.4h0M128.4 334.1h0M128.7 336.0h0M129.3 334.1h0M130.0 335.5h0M129.8 335.4h0M129.8 334.1h0M131.8 334.1h0M132.0 334.7h0M133.6 336.0h0M134.3 334.2h0M134.7 335.5h0M135.3 335.6h0M136.2 335.3h0M137.4 334.2h0M140.1 334.8h0M140.8 336.1h0M141.9 335.3h0M141.5 334.1h0M142.2 334.0h0M142.4 334.6h0M143.9 334.2h0M143.7 335.4h0M143.7 335.4h0M143.5 335.9h0M145.9 335.9h0M145.7 334.3h0M146.6 334.2h0M147.1 335.8h0M147.7 335.4h0M148.4 335.1h0M149.2 335.1h0M149.5 334.9h0M149.8 335.2h0M150.0 334.7h0M149.6 334.4h0M150.7 334.9h0M151.1 335.5h0M151.1 334.6h0M152.1 335.3h0M152.1 335.0h0M152.3 334.3h0M155.3 334.2h0M155.5 334.2h0M155.5 334.9h0M156.3 333.9h0M155.8 335.1h0M156.5 334.3h0M156.9 334.0h0M157.3 335.2h0M158.7 335.2h0M159.2 336.1h0M159.3 335.5h0M160.1 334.6h0M160.2 334.9h0M162.4 334.7h0M162.5 334.5h0M162.8 335.2h0M163.5 334.0h0M163.6 335.8h0M163.5 335.0h0M163.8 334.9h0M164.4 336.1h0M164.3 334.7h0M164.4 335.8h0M164.1 334.7h0M165.4 334.4h0M165.7 334.5h0M167.1 334.5h0M166.9 334.2h0M167.7 335.2h0M167.8 334.1h0M167.7 335.9h0M169.6 335.9h0M169.9 334.3h0M170.2 334.9h0M170.9 334.4h0M171.6 334.6h0M172.8 335.3h0M172.6 335.4h0M173.4 334.4h0M173.7 335.2h0M173.9 335.6h0M173.7 334.6h0M174.4 334.8h0M174.7 335.2h0M176.2 335.0h0M175.8 334.1h0M177.6 335.7h0M178.0 335.9h0M178.9 335.0h0M179.4 335.3h0M180.3 335.9h0M180.0 336.2h0M180.5 335.0h0M180.8 334.8h0M181.7 335.0h0M181.5 335.9h0M182.3 335.9h0M182.7 334.6h0M183.2 335.9h0M183.2 336.0h0M184.4 334.4h0"/>
<path stroke="#f6c0a8" stroke-opacity="0.75" stroke-width="2.0" d="M53.3 292.4h0M78.1 291.8h0M88.1 292.2h0M112.5 292.1h0M126.6 292.1h0M135.6 292.4h0M148.5 292.1h0M157.9 292.5h0"/>
<path stroke="#f0c0ae" stroke-opacity="0.75" stroke-width="2.0" d="M95.7 293.8h0"/>
<path stroke="#9cc0fc" stroke-opacity="0.75" stroke-width="2.0" d="M54.3 336.4h0M55.2 336.4h0M64.5 336.7h0M66.3 336.4h0M66.3 336.5h0M67.4 336.3h0M67.9 336.8h0M68.9 336.5h0M69.5 336.3h0M74.2 336.4h0M74.1 336.4h0M77.0 336.4h0M79.6 336.5h0M79.8 336.3h0M81.4 336.3h0M82.4 336.4h0M82.5 336.6h0M87.5 336.8h0M94.1 336.6h0M97.2 336.7h0M100.1 336.4h0M101.2 336.3h0M103.8 336.8h0M104.7 336.3h0M105.7 336.8h0M106.5 336.8h0M107.7 336.6h0M109.2 336.3h0M110.2 336.6h0M110.5 336.8h0M110.6 336.5h0M111.9 336.4h0M113.6 336.5h0M118.7 336.6h0M118.8 336.8h0M122.8 336.8h0M123.5 336.4h0M124.7 336.6h0M128.6 336.6h0M131.0 336.8h0M133.6 336.6h0M135.3 336.6h0M142.4 336.4h0M153.1 336.7h0M153.3 336.6h0M153.0 336.6h0M153.2 336.5h0M154.5 336.7h0M160.0 336.8h0M161.7 336.6h0M163.4 336.7h0M164.1 336.5h0M165.9 336.3h0M167.4 336.8h0M170.3 336.6h0M170.9 336.8h0M172.3 336.3h0M173.2 336.7h0M175.9 336.6h0M176.4 336.5h0M177.2 336.3h0M183.1 336.4h0M184.1 336.7h0M184.3 336.7h0"/>
<path stroke="#f0c0a8" stroke-opacity="0.75" stroke-width="2.0" d="M73.4 293.7h0M81.7 292.8h0M88.6 293.6h0M118.5 293.7h0M154.7 293.3h0M155.9 293.4h0M162.8 292.6h0M171.2 293.6h0"/>
<path stroke="#f6c0a2" stroke-opacity="0.75" stroke-width="2.0" d="M128.8 291.7h0"/>
<path stroke="#f6baa2" stroke-opacity="0.75" stroke-width="2.0" d="M47.1 291.4h0M54.6 289.9h0M84.7 290.1h0M86.1 289.8h0M93.1 290.9h0M122.3 291.4h0M125.6 290.7h0M134.7 291.0h0M156.0 291.2h0M159.9 290.1h0M164.9 291.4h0M179.3 291.0h0M183.5 291.1h0"/>
<path stroke="#9cbafc" stroke-opacity="0.75" stroke-width="2.0" d="M47.6 338.5h0M49.4 337.0h0M51.8 338.0h0M53.4 337.5h0M53.5 338.3h0M54.3 337.7h0M55.1 337.1h0M56.6 338.5h0M56.5 338.3h0M57.3 337.4h0M57.8 338.1h0M57.6 338.2h0M59.8 338.2h0M63.2 337.4h0M64.9 338.3h0M65.1 337.0h0M67.7 337.1h0M68.1 337.9h0M67.9 338.2h0M69.4 337.5h0M69.4 337.1h0M70.7 338.5h0M71.3 337.8h0M71.4 337.7h0M71.7 338.5h0M72.9 337.7h0M73.8 337.4h0M75.3 338.0h0M75.2 337.2h0M75.7 337.5h0M75.6 338.2h0M75.9 336.9h0M78.5 336.9h0M78.9 338.3h0M80.4 337.3h0M80.3 336.9h0M81.4 337.7h0M83.0 337.0h0M83.4 338.4h0M84.0 336.8h0M84.8 337.1h0M84.7 338.4h0M85.4 338.2h0M85.1 338.3h0M87.4 337.1h0M87.3 338.3h0M88.1 337.2h0M89.2 337.8h0M89.6 338.5h0M91.0 337.3h0M91.0 338.2h0M90.5 337.6h0M92.1 337.8h0M92.1 337.8h0M95.9 337.8h0M97.1 337.6h0M97.8 337.6h0M97.7 337.8h0M97.9 338.4h0M98.2 337.4h0M98.5 337.2h0M98.9 338.4h0M99.7 337.3h0M100.5 338.2h0M100.1 337.5h0M101.0 338.1h0M101.5 338.3h0M103.2 338.3h0M103.7 337.4h0M103.9 337.1h0M104.4 338.5h0M105.3 338.3h0M105.6 337.6h0M105.9 338.1h0M107.0 338.4h0M107.2 337.2h0M109.1 337.7h0M109.1 337.3h0M109.9 336.9h0M111.1 338.0h0M111.6 338.5h0M112.1 337.3h0M113.6 337.2h0M115.6 337.2h0M116.3 338.5h0M117.4 338.2h0M121.2 337.2h0M121.2 338.0h0M122.5 337.3h0M122.1 337.5h0M123.2 337.6h0M123.6 337.6h0M124.9 337.9h0M128.3 337.4h0M129.2 338.4h0M129.0 338.5h0M131.3 337.5h0M132.2 338.2h0M133.3 337.3h0M133.4 338.1h0M133.8 337.1h0M134.2 337.8h0M133.9 337.4h0M134.7 338.3h0M135.9 337.6h0M136.9 337.2h0M138.3 337.8h0M140.1 337.1h0M142.7 338.2h0M146.7 338.2h0M147.0 336.9h0M147.2 338.5h0M147.2 337.1h0M148.1 338.0h0M148.5 337.8h0M148.9 337.0h0M150.8 337.8h0M151.3 337.7h0M151.1 337.4h0M151.1 336.9h0M152.0 338.4h0M154.4 336.9h0M158.4 337.4h0M158.0 338.0h0M158.9 338.4h0M158.7 337.0h0M160.2 337.3h0M160.7 338.2h0M161.8 337.5h0M162.0 337.2h0M163.8 336.9h0M164.2 337.9h0M165.7 338.4h0M166.1 338.1h0M167.0 337.5h0M168.2 338.3h0M173.3 338.1h0M173.0 338.1h0M173.9 338.0h0M174.6 338.0h0M174.4 338.3h0M175.3 338.4h0M176.0 338.1h0M177.1 336.9h0M179.6 337.5h0M182.0 338.2h0M182.2 337.3h0M183.7 338.2h0"/>
<path stroke="#96bafc" stroke-opacity="0.75" stroke-width="2.0" d="M47.9 339.3h0M49.8 339.1h0M49.7 339.5h0M50.5 339.3h0M53.2 339.6h0M56.6 339.0h0M57.7 339.2h0M60.8 339.1h0M62.0 338.6h0M61.7 339.1h0M64.3 338.9h0M64.6 339.0h0M65.1 339.0h0M67.1 338.6h0M69.0 338.9h0M69.4 339.2h0M71.0 339.4h0M71.4 339.0h0M75.6 338.6h0M75.7 339.0h0M76.1 339.6h0M77.4 338.6h0M79.3 338.7h0M79.7 339.5h0M81.7 339.0h0M88.1 339.5h0M89.9 339.0h0M91.7 338.7h0M91.7 339.3h0M96.8 338.8h0M97.1 338.8h0M98.2 338.6h0M98.8 338.8h0M101.3 338.6h0M101.5 339.5h0M103.3 338.6h0M105.0 338.9h0M105.9 338.9h0M107.3 339.3h0M107.7 339.5h0M109.3 338.7h0M110.8 339.1h0M111.9 339.4h0M114.0 338.9h0M114.5 339.5h0M115.5 339.6h0M118.4 339.2h0M120.8 339.6h0M127.7 338.7h0M131.3 338.8h0M131.2 338.8h0M131.7 339.6h0M132.7 339.3h0M136.0 338.7h0M138.4 339.3h0M145.9 339.5h0M151.3 339.0h0M151.8 339.6h0M156.3 338.7h0M158.0 339.5h0M158.7 338.6h0M162.3 339.5h0M164.2 339.2h0M165.0 339.5h0M168.3 339.0h0M170.1 339.2h0M171.6 339.3h0M171.5 339.4h0M173.4 338.6h0M173.7 339.0h0M176.2 338.8h0M176.9 339.0h0M177.2 338.8h0M179.1 338.8h0M181.6 339.5h0"/>
<path stroke="#f6ba9c" stroke-opacity="0.75" stroke-width="2.0" d="M54.8 289.6h0M57.9 289.2h0M147.8 289.5h0"/>
<path stroke="#96b4fc" stroke-opacity="0.75" stroke-width="2.0" d="M48.7 339.7h0M50.7 340.6h0M51.7 340.6h0M53.6 340.6h0M62.2 340.4h0M62.5 340.6h0M65.8 340.0h0M66.6 339.9h0M66.7 339.8h0M67.4 339.7h0M69.0 340.4h0M69.4 340.2h0M70.2 340.4h0M74.5 340.7h0M75.9 340.5h0M76.6 340.1h0M76.4 340.1h0M76.6 339.7h0M78.2 340.8h0M80.2 339.9h0M81.3 340.7h0M81.0 340.3h0M83.3 340.0h0M84.7 339.9h0M85.0 340.5h0M86.5 339.9h0M88.6 340.1h0M90.5 340.7h0M92.1 339.7h0M93.0 339.9h0M94.0 340.5h0M98.7 340.8h0M105.2 339.8h0M108.9 339.7h0M109.3 340.1h0M111.4 340.1h0M114.2 340.5h0M114.8 340.1h0M115.0 340.0h0M121.1 340.1h0M122.9 340.1h0M123.6 340.4h0M124.4 340.4h0M128.1 339.9h0M129.4 340.6h0M131.6 339.8h0M131.5 340.7h0M132.8 339.8h0M133.2 340.4h0M134.7 340.0h0M139.1 340.2h0M138.6 340.6h0M139.8 340.5h0M144.2 340.4h0M149.7 340.7h0M154.2 339.7h0M155.4 340.4h0M155.4 340.8h0M155.8 339.8h0M156.6 340.5h0M156.9 340.2h0M157.8 340.5h0M159.6 340.1h0M159.9 340.6h0M160.7 339.7h0M163.1 340.7h0M165.7 340.7h0M173.5 340.2h0M175.3 339.9h0M177.1 340.3h0M178.3 340.5h0M178.9 339.8h0M179.6 340.4h0M181.2 340.4h0M183.1 339.7h0M182.5 340.8h0M183.7 340.4h0M184.1 339.8h0"/>
<path stroke="#f6b49c" stroke-opacity="0.75" stroke-width="2.0" d="M51.0 288.5h0M63.8 288.2h0M87.2 288.3h0M96.1 288.3h0M103.6 288.5h0M181.9 287.8h0M181.2 288.3h0"/>
<path stroke="#90b4fc" stroke-opacity="0.75" stroke-width="2.0" d="M47.6 341.2h0M47.3 341.0h0M49.7 341.7h0M49.8 341.9h0M53.6 341.5h0M53.6 341.3h0M55.1 340.8h0M55.0 341.2h0M56.0 340.9h0M57.1 341.7h0M57.6 341.7h0M60.0 341.1h0M61.7 340.9h0M62.8 340.9h0M62.8 341.2h0M63.8 341.5h0M63.7 341.4h0M66.3 341.5h0M67.6 341.9h0M68.0 342.4h0M69.3 341.7h0M70.7 341.4h0M75.1 341.6h0M75.7 340.8h0M78.9 341.0h0M80.4 341.7h0M82.6 341.2h0M85.8 341.7h0M89.3 341.2h0M91.2 341.1h0M93.7 341.2h0M96.2 341.2h0M96.5 342.1h0M97.6 342.0h0M97.9 341.8h0M99.3 342.4h0M100.8 341.5h0M104.4 341.4h0M107.0 342.3h0M107.9 341.6h0M108.6 341.3h0M109.5 341.8h0M111.6 341.6h0M112.2 342.1h0M113.0 341.6h0M113.0 341.1h0M113.2 342.4h0M113.9 341.7h0M117.5 342.3h0M118.4 340.9h0M118.2 341.7h0M118.7 342.0h0M119.3 342.0h0M119.8 341.7h0M120.9 341.4h0M122.9 342.1h0M123.7 341.5h0M124.3 341.2h0M125.4 342.0h0M127.7 342.3h0M127.8 341.5h0M129.1 342.1h0M133.4 342.1h0M136.3 341.4h0M136.9 342.1h0M137.7 341.0h0M139.6 340.9h0M142.6 341.6h0M142.9 342.3h0M149.3 341.2h0M150.0 341.5h0M149.8 342.2h0M150.6 341.1h0M150.4 341.9h0M150.7 342.0h0M154.9 341.9h0M155.2 341.1h0M156.8 341.4h0M156.5 341.2h0M159.3 342.3h0M159.7 342.3h0M164.4 341.9h0M165.4 341.1h0M166.5 341.9h0M171.3 342.2h0M172.5 341.0h0M174.6 341.1h0M178.9 341.4h0"/>
<path stroke="#f6b496" stroke-opacity="0.75" stroke-width="2.0" d="M58.5 287.5h0M62.0 287.2h0M65.3 286.7h0M78.1 287.5h0M116.0 286.2h0M121.1 286.7h0M142.0 287.3h0M151.4 286.7h0M155.1 287.7h0M156.5 286.7h0M159.5 286.2h0M120.2 286.6h0M178.4 286.6h0"/>
<path stroke="#90aefc" stroke-opacity="0.75" stroke-width="2.0" d="M48.3 343.0h0M62.7 342.8h0M65.8 342.7h0M71.0 343.1h0M78.3 342.9h0M78.7 342.9h0M83.9 343.0h0M89.4 342.6h0M97.2 342.6h0M104.0 343.1h0M105.4 343.1h0M105.9 342.9h0M109.2 342.6h0M126.5 342.9h0M127.1 343.0h0M132.5 342.8h0M133.5 342.6h0M145.1 342.8h0M152.4 342.6h0M162.7 342.5h0M165.7 342.5h0M169.9 342.6h0M178.0 342.9h0"/>
<path stroke="#f6ae96" stroke-opacity="0.75" stroke-width="2.0" d="M74.4 286.1h0M105.4 286.2h0M145.7 285.9h0"/>
<path stroke="#8aaefc" stroke-opacity="0.75" stroke-width="2.0" d="M46.6 343.9h0M47.7 344.5h0M48.8 343.3h0M55.0 344.5h0M56.7 344.4h0M58.1 343.6h0M63.5 344.3h0M68.4 343.5h0M67.9 343.4h0M71.2 344.3h0M73.4 343.5h0M82.5 344.4h0M83.3 343.9h0M83.7 344.2h0M86.0 343.5h0M90.8 343.3h0M95.1 344.1h0M94.7 343.7h0M95.7 343.4h0M98.9 344.3h0M101.5 343.9h0M104.3 343.9h0M105.0 343.8h0M111.5 343.8h0M115.0 345.0h0M114.8 344.3h0M116.9 343.2h0M116.7 343.9h0M125.4 345.0h0M126.4 343.8h0M127.1 344.0h0M132.6 343.5h0M137.4 343.5h0M137.5 343.2h0M138.1 343.9h0M138.9 344.8h0M142.5 343.9h0M143.0 344.0h0M147.7 344.1h0M150.1 343.3h0M150.3 343.8h0M152.4 344.5h0M158.8 343.4h0M162.0 343.7h0M168.4 343.4h0M168.6 343.2h0M171.4 343.8h0M170.9 344.6h0M171.7 343.7h0M173.6 345.0h0M175.8 344.6h0M177.2 344.3h0M179.0 343.1h0M183.8 344.7h0"/>
<path stroke="#f6ae90" stroke-opacity="0.75" stroke-width="2.0" d="M154.8 285.3h0M119.9 283.9h0"/>
<path stroke="#8aa8fc" stroke-opacity="0.75" stroke-width="2.0" d="M68.0 345.4h0M75.8 345.1h0M83.3 345.3h0M142.3 345.4h0M152.4 345.4h0M153.9 345.1h0M171.1 345.2h0M175.3 345.2h0"/>
<path stroke="#84a8fc" stroke-opacity="0.75" stroke-width="2.0" d="M60.1 346.9h0M64.4 345.9h0M70.7 345.9h0M76.6 346.1h0M79.6 345.9h0M80.4 346.6h0M81.3 346.1h0M93.5 346.3h0M95.5 345.9h0M106.6 345.6h0M108.5 345.9h0M110.7 346.0h0M112.2 345.4h0M125.8 346.6h0M131.5 346.8h0M138.8 345.5h0M145.0 346.6h0M165.1 347.0h0M168.6 346.7h0M172.9 347.3h0M179.3 347.2h0M181.6 345.7h0M182.1 346.6h0"/>
<path stroke="#f6a88a" stroke-opacity="0.75" stroke-width="2.0" d="M130.1 283.0h0M123.7 282.0h0"/>
<path stroke="#84a2fc" stroke-opacity="0.75" stroke-width="2.0" d="M92.3 347.4h0M156.6 347.5h0M165.1 347.5h0"/>
<path stroke="#84a2f6" stroke-opacity="0.75" stroke-width="2.0" d="M118.0 347.6h0M157.0 347.7h0"/>
<path stroke="#7ea2f6" stroke-opacity="0.75" stroke-width="2.0" d="M59.7 349.2h0M61.3 348.2h0M70.9 349.1h0M70.6 347.8h0M91.4 349.1h0M111.9 349.3h0M129.0 348.8h0M134.2 348.3h0M136.0 349.3h0M137.7 348.3h0M140.8 348.6h0M143.9 347.9h0M150.7 348.5h0M150.7 348.8h0M166.1 349.1h0"/>
<path stroke="#f0a27e" stroke-opacity="0.75" stroke-width="2.0" d="M129.3 279.4h0"/>
<path stroke="#f09c7e" stroke-opacity="0.75" stroke-width="2.0" d="M160.6 278.4h0M173.8 278.4h0"/>
<path stroke="#f09072" stroke-opacity="0.75" stroke-width="2.0" d="M139.9 273.5h0"/>
<path stroke="#f08a6c" stroke-opacity="0.75" stroke-width="2.0" d="M160.7 271.6h0"/>
<path stroke="#d85a48" stroke-opacity="0.75" stroke-width="2.0" d="M166.3 258.8h0"/>
</g>
<path d="M46.8,313.9 H47.1 V306.2 H47.5 V303.7 H48.2 V301.1 H48.9 V297.9 H49.5 V296.6 H50.2 V292.2 H53.0 V287.1 H64.7 V285.1 H79.1 V279.4 H128.9 V246.2 H184.2 V246.2" fill="none" stroke="#000" stroke-width="1.6"/>
<path stroke="#3c0c16" stroke-width="2.6" stroke-linecap="round" fill="none" d="M129.9 246.2h0M134.0 246.2h0M136.8 246.2h0M138.9 246.2h0M142.3 246.2h0M144.4 246.2h0M147.1 246.2h0M150.5 246.2h0M152.6 246.2h0M154.7 246.2h0M158.1 246.2h0M160.2 246.2h0M161.5 246.2h0M164.3 246.2h0M166.3 246.2h0M169.1 246.2h0"/>
<rect x="43.4" y="237.1" width="150.9" height="140.7" fill="none" stroke="#111" stroke-width="1.5"/>
<line x1="40" y1="377.8" x2="43.4" y2="377.8" stroke="#111" stroke-width="1.1"/>
<text x="37.00" y="382.20" font-size="11.2" text-anchor="end">0.0</text>
<line x1="40" y1="352.2" x2="43.4" y2="352.2" stroke="#111" stroke-width="1.1"/>
<text x="37.00" y="356.64" font-size="11.2" text-anchor="end">0.2</text>
<line x1="40" y1="326.7" x2="43.4" y2="326.7" stroke="#111" stroke-width="1.1"/>
<text x="37.00" y="331.08" font-size="11.2" text-anchor="end">0.4</text>
<line x1="40" y1="301.1" x2="43.4" y2="301.1" stroke="#111" stroke-width="1.1"/>
<text x="37.00" y="305.52" font-size="11.2" text-anchor="end">0.6</text>
<line x1="40" y1="275.6" x2="43.4" y2="275.6" stroke="#111" stroke-width="1.1"/>
<text x="37.00" y="279.96" font-size="11.2" text-anchor="end">0.8</text>
<line x1="40" y1="250.0" x2="43.4" y2="250.0" stroke="#111" stroke-width="1.1"/>
<text x="37.00" y="254.40" font-size="11.2" text-anchor="end">1.0</text>
<line x1="46.8" y1="377.8" x2="46.8" y2="381.2" stroke="#111" stroke-width="1.1"/>
<text x="46.80" y="392.80" font-size="11.2" text-anchor="middle">0</text>
<line x1="81.2" y1="377.8" x2="81.2" y2="381.2" stroke="#111" stroke-width="1.1"/>
<text x="81.15" y="392.80" font-size="11.2" text-anchor="middle">50</text>
<line x1="115.5" y1="377.8" x2="115.5" y2="381.2" stroke="#111" stroke-width="1.1"/>
<text x="115.50" y="392.80" font-size="11.2" text-anchor="middle">100</text>
<line x1="149.9" y1="377.8" x2="149.9" y2="381.2" stroke="#111" stroke-width="1.1"/>
<text x="149.85" y="392.80" font-size="11.2" text-anchor="middle">150</text>
<line x1="184.2" y1="377.8" x2="184.2" y2="381.2" stroke="#111" stroke-width="1.1"/>
<text x="184.20" y="392.80" font-size="11.2" text-anchor="middle">200</text>
<text x="118.70" y="407.90" font-size="13.7" text-anchor="middle" textLength="73.2" lengthAdjust="spacingAndGlyphs">Generations</text>
<text transform="translate(13.90,306.80) rotate(-90)" font-size="12.2" text-anchor="middle" textLength="97" lengthAdjust="spacingAndGlyphs">TC (W m<tspan font-size="8.6" dy="-4.6">&#8722;1</tspan><tspan dy="4.6">K</tspan><tspan font-size="8.6" dy="-4.6">&#8722;1</tspan><tspan dy="4.6">)</tspan></text>
<defs><linearGradient id="cw" x1="0" y1="1" x2="0" y2="0">
<stop offset="0.000" stop-color="#3b4cc0"/>
<stop offset="0.031" stop-color="#445acc"/>
<stop offset="0.062" stop-color="#4d68d7"/>
<stop offset="0.094" stop-color="#5775e1"/>
<stop offset="0.125" stop-color="#6282ea"/>
<stop offset="0.156" stop-color="#6c8ef1"/>
<stop offset="0.188" stop-color="#779af7"/>
<stop offset="0.219" stop-color="#82a5fb"/>
<stop offset="0.250" stop-color="#8db0fe"/>
<stop offset="0.281" stop-color="#98b9ff"/>
<stop offset="0.312" stop-color="#a3c2ff"/>
<stop offset="0.344" stop-color="#aec9fd"/>
<stop offset="0.375" stop-color="#b8d0f9"/>
<stop offset="0.406" stop-color="#c2d5f4"/>
<stop offset="0.438" stop-color="#ccd9ee"/>
<stop offset="0.469" stop-color="#d5dbe6"/>
<stop offset="0.500" stop-color="#dddddd"/>
<stop offset="0.531" stop-color="#e5d8d1"/>
<stop offset="0.562" stop-color="#ecd3c5"/>
<stop offset="0.594" stop-color="#f1ccb9"/>
<stop offset="0.625" stop-color="#f5c4ad"/>
<stop offset="0.656" stop-color="#f7bba0"/>
<stop offset="0.688" stop-color="#f7b194"/>
<stop offset="0.719" stop-color="#f6a687"/>
<stop offset="0.750" stop-color="#f49a7b"/>
<stop offset="0.781" stop-color="#f18d6f"/>
<stop offset="0.812" stop-color="#ec7f63"/>
<stop offset="0.844" stop-color="#e57058"/>
<stop offset="0.875" stop-color="#de604d"/>
<stop offset="0.906" stop-color="#d55042"/>
<stop offset="0.938" stop-color="#cb3e38"/>
<stop offset="0.969" stop-color="#c0282f"/>
<stop offset="1.000" stop-color="#b40426"/>
</linearGradient>
<linearGradient id="rb" x1="0" y1="1" x2="0" y2="0">
<stop offset="0.000" stop-color="#7f00ff"/><stop offset="0.050" stop-color="#7f00ff"/>
<stop offset="0.050" stop-color="#6429fe"/><stop offset="0.100" stop-color="#6429fe"/>
<stop offset="0.100" stop-color="#4952fb"/><stop offset="0.150" stop-color="#4952fb"/>
<stop offset="0.150" stop-color="#2e79f7"/><stop offset="0.200" stop-color="#2e79f7"/>
<stop offset="0.200" stop-color="#149cf1"/><stop offset="0.250" stop-color="#149cf1"/>
<stop offset="0.250" stop-color="#06bbe9"/><stop offset="0.300" stop-color="#06bbe9"/>
<stop offset="0.300" stop-color="#21d5e0"/><stop offset="0.350" stop-color="#21d5e0"/>
<stop offset="0.350" stop-color="#3ce9d5"/><stop offset="0.400" stop-color="#3ce9d5"/>
<stop offset="0.400" stop-color="#57f7c9"/><stop offset="0.450" stop-color="#57f7c9"/>
<stop offset="0.450" stop-color="#72febb"/><stop offset="0.500" stop-color="#72febb"/>
<stop offset="0.500" stop-color="#8cfeac"/><stop offset="0.550" stop-color="#8cfeac"/>
<stop offset="0.550" stop-color="#a7f79c"/><stop offset="0.600" stop-color="#a7f79c"/>
<stop offset="0.600" stop-color="#c2e98b"/><stop offset="0.650" stop-color="#c2e98b"/>
<stop offset="0.650" stop-color="#ddd579"/><stop offset="0.700" stop-color="#ddd579"/>
<stop offset="0.700" stop-color="#f8bb66"/><stop offset="0.750" stop-color="#f8bb66"/>
<stop offset="0.750" stop-color="#ff9c52"/><stop offset="0.800" stop-color="#ff9c52"/>
<stop offset="0.800" stop-color="#ff793e"/><stop offset="0.850" stop-color="#ff793e"/>
<stop offset="0.850" stop-color="#ff5229"/><stop offset="0.900" stop-color="#ff5229"/>
<stop offset="0.900" stop-color="#ff2915"/><stop offset="0.950" stop-color="#ff2915"/>
<stop offset="0.950" stop-color="#ff0000"/><stop offset="1.000" stop-color="#ff0000"/>
</linearGradient></defs>
<rect x="204" y="236.6" width="7.2" height="140.8" fill="#fff"/>
<rect x="204" y="236.6" width="7.2" height="140.8" fill="url(#cw)" fill-opacity="0.72" stroke="#3a2a30" stroke-width="0.8"/>
<line x1="211.2" y1="377.4" x2="214" y2="377.4" stroke="#111" stroke-width="1"/>
<text x="216.40" y="382.00" font-size="11.3">0.00</text>
<line x1="211.2" y1="344.0" x2="214" y2="344.0" stroke="#111" stroke-width="1"/>
<text x="216.40" y="348.62" font-size="11.3">0.25</text>
<line x1="211.2" y1="310.6" x2="214" y2="310.6" stroke="#111" stroke-width="1"/>
<text x="216.40" y="315.25" font-size="11.3">0.50</text>
<line x1="211.2" y1="277.3" x2="214" y2="277.3" stroke="#111" stroke-width="1"/>
<text x="216.40" y="281.88" font-size="11.3">0.75</text>
<line x1="211.2" y1="243.9" x2="214" y2="243.9" stroke="#111" stroke-width="1"/>
<text x="216.40" y="248.50" font-size="11.3">1.00</text>
<text transform="translate(251.40,307.70) rotate(-90)" font-size="10.6" text-anchor="middle">TC</text>
<g fill="none">
<path d="M309.1,317.7 H310.6 V307.5 H312.1 V298.6 H315.1 V288.3 H331.7 V285.8 H375.4 V258.9 H449.2 V246.2 H459.7" stroke="#7f00ff" stroke-width="1.15"/>
<path d="M309.1,313.9 H310.6 V306.2 H312.1 V296.0 H313.2 V271.7 H357.3 V258.9 H430.3 V246.2 H459.7" stroke="#6429fe" stroke-width="1.15"/>
<path d="M309.1,311.3 H312.1 V306.2 H313.6 V297.3 H316.6 V288.3 H354.3 V285.8 H388.2 V280.7 H429.6 V278.8 H459.7" stroke="#4952fb" stroke-width="1.15"/>
<path d="M309.1,313.9 H311.4 V307.5 H312.9 V301.1 H315.1 V293.5 H324.2 V288.3 H358.8 V282.0 H390.4 V271.7 H398.7 V246.2 H459.7" stroke="#2e79f7" stroke-width="1.15"/>
<path d="M309.1,310.1 H310.6 V301.1 H312.9 V290.9 H315.9 V285.8 H331.7 V283.2 H354.0 V258.9 H370.8 V246.2 H459.7" stroke="#149cf1" stroke-width="1.15"/>
<path d="M309.1,307.5 H310.6 V298.6 H313.6 V288.3 H322.7 V283.2 H354.3 V278.8 H398.7 V246.2 H459.7" stroke="#06bbe9" stroke-width="1.15"/>
<path d="M309.1,307.5 H311.1 V258.9 H428.8 V246.2 H459.7" stroke="#21d5e0" stroke-width="1.15"/>
<path d="M309.1,313.9 H312.1 V307.5 H315.1 V301.1 H322.3 V285.8 H354.3 V280.7 H419.8 V258.9 H459.7" stroke="#3ce9d5" stroke-width="1.15"/>
<path d="M309.1,311.3 H311.4 V296.0 H314.4 V288.3 H327.9 V283.2 H376.9 V278.8 H459.7" stroke="#57f7c9" stroke-width="1.15"/>
<path d="M309.1,310.1 H310.6 V293.5 H315.1 V283.2 H324.9 V258.9 H345.0 V246.2 H459.7" stroke="#72febb" stroke-width="1.15"/>
<path d="M309.1,313.9 H311.4 V288.3 H317.4 V280.7 H327.2 V258.9 H349.0 V246.2 H459.7" stroke="#8cfeac" stroke-width="1.15"/>
<path d="M309.1,313.9 H311.4 V290.9 H318.1 V283.2 H321.1 V258.9 H347.0 V246.2 H459.7" stroke="#a7f79c" stroke-width="1.15"/>
<path d="M309.1,319.0 H312.9 V293.5 H316.6 V283.2 H321.1 V258.9 H337.0 V246.2 H459.7" stroke="#c2e98b" stroke-width="1.15"/>
<path d="M309.1,311.3 H313.6 V287.1 H320.9 V258.9 H347.0 V246.2 H459.7" stroke="#ddd579" stroke-width="1.15"/>
<path d="M309.1,307.5 H310.6 V289.6 H315.1 V283.2 H321.1 V258.9 H348.9 V246.2 H459.7" stroke="#f8bb66" stroke-width="1.15"/>
<path d="M309.1,311.3 H312.1 V285.8 H316.6 V280.7 H328.7 V278.8 H449.2 V258.9 H459.7" stroke="#ff9c52" stroke-width="1.15"/>
<path d="M309.1,313.9 H311.4 V288.3 H316.6 V283.2 H325.7 V258.9 H350.0 V246.2 H459.7" stroke="#ff793e" stroke-width="1.15"/>
<path d="M309.1,316.5 H309.9 V301.1 H310.6 V288.3 H315.9 V285.8 H339.2 V283.2 H384.4 V280.7 H407.0 V278.8 H459.7" stroke="#ff5229" stroke-width="1.15"/>
<path d="M309.1,313.9 H309.9 V289.6 H318.1 V285.8 H327.9 V278.8 H375.4 V258.9 H459.7" stroke="#ff2915" stroke-width="1.6"/>
<path d="M309.1,313.9 H309.9 V296.0 H310.6 V285.8 H314.4 V279.4 H332.4 V246.2 H459.7" stroke="#ff0000" stroke-width="1.6"/>
</g>
<rect x="305.5" y="237.1" width="165.5" height="140.7" fill="none" stroke="#111" stroke-width="1.5"/>
<line x1="302" y1="377.8" x2="305.5" y2="377.8" stroke="#111" stroke-width="1.1"/>
<text x="299.30" y="382.20" font-size="11.2" text-anchor="end">0.0</text>
<line x1="302" y1="352.2" x2="305.5" y2="352.2" stroke="#111" stroke-width="1.1"/>
<text x="299.30" y="356.64" font-size="11.2" text-anchor="end">0.2</text>
<line x1="302" y1="326.7" x2="305.5" y2="326.7" stroke="#111" stroke-width="1.1"/>
<text x="299.30" y="331.08" font-size="11.2" text-anchor="end">0.4</text>
<line x1="302" y1="301.1" x2="305.5" y2="301.1" stroke="#111" stroke-width="1.1"/>
<text x="299.30" y="305.52" font-size="11.2" text-anchor="end">0.6</text>
<line x1="302" y1="275.6" x2="305.5" y2="275.6" stroke="#111" stroke-width="1.1"/>
<text x="299.30" y="279.96" font-size="11.2" text-anchor="end">0.8</text>
<line x1="302" y1="250.0" x2="305.5" y2="250.0" stroke="#111" stroke-width="1.1"/>
<text x="299.30" y="254.40" font-size="11.2" text-anchor="end">1.0</text>
<line x1="309.1" y1="377.8" x2="309.1" y2="381.2" stroke="#111" stroke-width="1.1"/>
<text x="309.10" y="392.80" font-size="11.2" text-anchor="middle">0</text>
<line x1="346.8" y1="377.8" x2="346.8" y2="381.2" stroke="#111" stroke-width="1.1"/>
<text x="346.75" y="392.80" font-size="11.2" text-anchor="middle">50</text>
<line x1="384.4" y1="377.8" x2="384.4" y2="381.2" stroke="#111" stroke-width="1.1"/>
<text x="384.40" y="392.80" font-size="11.2" text-anchor="middle">100</text>
<line x1="422.1" y1="377.8" x2="422.1" y2="381.2" stroke="#111" stroke-width="1.1"/>
<text x="422.05" y="392.80" font-size="11.2" text-anchor="middle">150</text>
<line x1="459.7" y1="377.8" x2="459.7" y2="381.2" stroke="#111" stroke-width="1.1"/>
<text x="459.70" y="392.80" font-size="11.2" text-anchor="middle">200</text>
<text x="388.30" y="407.90" font-size="13.7" text-anchor="middle" textLength="73.2" lengthAdjust="spacingAndGlyphs">Generations</text>
<text transform="translate(275.60,306.90) rotate(-90)" font-size="12.2" text-anchor="middle" textLength="141" lengthAdjust="spacingAndGlyphs">Best of TC (W m<tspan font-size="8.6" dy="-4.6">&#8722;1</tspan><tspan dy="4.6">K</tspan><tspan font-size="8.6" dy="-4.6">&#8722;1</tspan><tspan dy="4.6">)</tspan></text>
<rect x="380.8" y="289.6" width="76.5" height="67.9" fill="#fff"/>
<clipPath id="ic"><rect x="380.8" y="289.6" width="76.5" height="67.9"/></clipPath>
<g fill="none" clip-path="url(#ic)">
<path d="M380.8,350.7 H383.9 V342.8 H386.9 V336.0 H393.0 V328.2 H426.7 V326.2 H472.6 V305.7 H472.6 V295.9 H472.6" stroke="#7f00ff" stroke-width="1.05"/>
<path d="M380.8,347.7 H383.9 V341.9 H386.9 V334.0 H389.1 V315.4 H472.6 V305.7 H472.6 V295.9 H472.6" stroke="#6429fe" stroke-width="1.05"/>
<path d="M380.8,345.8 H386.9 V341.9 H390.0 V335.0 H396.1 V328.2 H472.6 V326.2 H472.6 V322.3 H472.6 V320.8 H472.6" stroke="#4952fb" stroke-width="1.05"/>
<path d="M380.8,347.7 H385.4 V342.8 H388.4 V337.9 H393.0 V332.1 H411.4 V328.2 H472.6 V323.3 H472.6 V315.4 H472.6 V295.9 H472.6" stroke="#2e79f7" stroke-width="1.05"/>
<path d="M380.8,344.8 H383.9 V337.9 H388.4 V330.1 H394.6 V326.2 H426.7 V324.2 H472.0 V305.7 H472.6 V295.9 H472.6" stroke="#149cf1" stroke-width="1.05"/>
<path d="M380.8,342.8 H383.9 V336.0 H390.0 V328.2 H408.3 V324.2 H472.6 V320.8 H472.6 V295.9 H472.6" stroke="#06bbe9" stroke-width="1.05"/>
<path d="M380.8,342.8 H384.9 V305.7 H472.6 V295.9 H472.6" stroke="#21d5e0" stroke-width="1.05"/>
<path d="M380.8,347.7 H386.9 V342.8 H393.0 V337.9 H407.6 V326.2 H472.6 V322.3 H472.6 V305.7 H472.6" stroke="#3ce9d5" stroke-width="1.05"/>
<path d="M380.8,345.8 H385.4 V334.0 H391.5 V328.2 H419.1 V324.2 H472.6 V320.8 H472.6" stroke="#57f7c9" stroke-width="1.05"/>
<path d="M380.8,344.8 H383.9 V332.1 H393.0 V324.2 H412.9 V305.7 H453.8 V295.9 H472.6" stroke="#72febb" stroke-width="1.05"/>
<path d="M380.8,347.7 H385.4 V328.2 H397.6 V322.3 H417.5 V305.7 H461.9 V295.9 H472.6" stroke="#8cfeac" stroke-width="1.05"/>
<path d="M380.8,347.7 H385.4 V330.1 H399.2 V324.2 H405.3 V305.7 H457.8 V295.9 H472.6" stroke="#a7f79c" stroke-width="1.05"/>
<path d="M380.8,351.6 H388.4 V332.1 H396.1 V324.2 H405.3 V305.7 H437.4 V295.9 H472.6" stroke="#c2e98b" stroke-width="1.05"/>
<path d="M380.8,345.8 H390.0 V327.2 H404.8 V305.7 H457.8 V295.9 H472.6" stroke="#ddd579" stroke-width="1.05"/>
<path d="M380.8,342.8 H383.9 V329.1 H393.0 V324.2 H405.3 V305.7 H461.7 V295.9 H472.6" stroke="#f8bb66" stroke-width="1.05"/>
<path d="M380.8,345.8 H386.9 V326.2 H396.1 V322.3 H420.6 V320.8 H472.6 V305.7 H472.6" stroke="#ff9c52" stroke-width="1.05"/>
<path d="M380.8,347.7 H385.4 V328.2 H396.1 V324.2 H414.5 V305.7 H463.9 V295.9 H472.6" stroke="#ff793e" stroke-width="1.05"/>
<path d="M380.8,349.7 H382.3 V337.9 H383.9 V328.2 H394.6 V326.2 H442.0 V324.2 H472.6 V322.3 H472.6 V320.8 H472.6" stroke="#ff5229" stroke-width="1.05"/>
<path d="M380.8,347.7 H382.3 V329.1 H399.2 V326.2 H419.1 V320.8 H472.6 V305.7 H472.6" stroke="#ff2915" stroke-width="1.6"/>
<path d="M380.8,347.7 H382.3 V334.0 H383.9 V326.2 H391.5 V321.3 H428.2 V295.9 H472.6" stroke="#ff0000" stroke-width="1.6"/>
</g>
<rect x="380.8" y="289.6" width="76.5" height="67.9" fill="none" stroke="#111" stroke-width="1.3"/>
<line x1="378.2" y1="357.5" x2="380.8" y2="357.5" stroke="#111" stroke-width="1"/>
<text x="376.40" y="361.40" font-size="9.7" text-anchor="end" style="stroke-width:0.3px">0.4</text>
<line x1="378.2" y1="337.9" x2="380.8" y2="337.9" stroke="#111" stroke-width="1"/>
<text x="376.40" y="341.84" font-size="9.7" text-anchor="end" style="stroke-width:0.3px">0.6</text>
<line x1="378.2" y1="318.4" x2="380.8" y2="318.4" stroke="#111" stroke-width="1"/>
<text x="376.40" y="322.28" font-size="9.7" text-anchor="end" style="stroke-width:0.3px">0.8</text>
<line x1="378.2" y1="298.8" x2="380.8" y2="298.8" stroke="#111" stroke-width="1"/>
<text x="376.40" y="302.72" font-size="9.7" text-anchor="end" style="stroke-width:0.3px">1.0</text>
<line x1="380.8" y1="357.5" x2="380.8" y2="360.2" stroke="#111" stroke-width="1"/>
<text x="380.80" y="369.60" font-size="9.7" text-anchor="middle" style="stroke-width:0.3px">0</text>
<line x1="396.1" y1="357.5" x2="396.1" y2="360.2" stroke="#111" stroke-width="1"/>
<text x="396.10" y="369.60" font-size="9.7" text-anchor="middle" style="stroke-width:0.3px">10</text>
<line x1="411.4" y1="357.5" x2="411.4" y2="360.2" stroke="#111" stroke-width="1"/>
<text x="411.40" y="369.60" font-size="9.7" text-anchor="middle" style="stroke-width:0.3px">20</text>
<line x1="426.7" y1="357.5" x2="426.7" y2="360.2" stroke="#111" stroke-width="1"/>
<text x="426.70" y="369.60" font-size="9.7" text-anchor="middle" style="stroke-width:0.3px">30</text>
<line x1="442.0" y1="357.5" x2="442.0" y2="360.2" stroke="#111" stroke-width="1"/>
<text x="442.00" y="369.60" font-size="9.7" text-anchor="middle" style="stroke-width:0.3px">40</text>
<line x1="457.3" y1="357.5" x2="457.3" y2="360.2" stroke="#111" stroke-width="1"/>
<text x="457.30" y="369.60" font-size="9.7" text-anchor="middle" style="stroke-width:0.3px">50</text>
<rect x="479.6" y="236.6" width="7.5" height="143" fill="url(#rb)"/>
<line x1="487.1" y1="379.6" x2="489.9" y2="379.6" stroke="#111" stroke-width="1"/>
<text x="493.20" y="384.00" font-size="11.3">0</text>
<line x1="487.1" y1="344.0" x2="489.9" y2="344.0" stroke="#111" stroke-width="1"/>
<text x="493.20" y="348.38" font-size="11.3">5</text>
<line x1="487.1" y1="308.4" x2="489.9" y2="308.4" stroke="#111" stroke-width="1"/>
<text x="493.20" y="312.75" font-size="11.3">10</text>
<line x1="487.1" y1="272.7" x2="489.9" y2="272.7" stroke="#111" stroke-width="1"/>
<text x="493.20" y="277.12" font-size="11.3">15</text>
<line x1="487.1" y1="237.1" x2="489.9" y2="237.1" stroke="#111" stroke-width="1"/>
<text x="493.20" y="241.50" font-size="11.3">20</text>
<text transform="translate(517.30,309.20) rotate(-90)" font-size="11.4" text-anchor="middle" textLength="26" lengthAdjust="spacingAndGlyphs">Runs</text>
</svg>
</body></html>
